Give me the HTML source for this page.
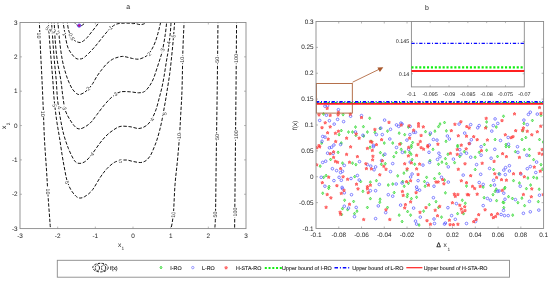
<!DOCTYPE html><html><head><meta charset="utf-8"><style>html,body{margin:0;padding:0;background:#fff;width:550px;height:282px;overflow:hidden}svg{display:block}text{font-family:"Liberation Sans",Arial,sans-serif;text-rendering:geometricPrecision}</style></head><body><svg width="550" height="282" viewBox="0 0 550 282"><rect width="550" height="282" fill="#fff"/><defs><clipPath id="cl"><rect x="20.00" y="22.50" width="226.00" height="206.10"/></clipPath><clipPath id="cr"><rect x="316.00" y="21.50" width="227.60" height="207.00"/></clipPath></defs><g clip-path="url(#cl)" fill="none" stroke="#111" stroke-width="1.0" stroke-dasharray="3.4 1.7"><path d="M39.30,20.00 C39.50,25.00 40.05,40.00 40.50,50.00 C40.95,60.00 41.53,70.00 42.00,80.00 C42.47,90.00 42.88,100.00 43.30,110.00 C43.72,120.00 43.97,130.00 44.50,140.00 C45.03,150.00 45.92,160.83 46.50,170.00 C47.08,179.17 47.45,186.67 48.00,195.00 C48.55,203.33 49.37,214.00 49.80,220.00 C50.23,226.00 50.47,229.17 50.60,231.00"/><path d="M48.20,20.00 C48.47,24.00 49.28,37.00 49.80,44.00 C50.32,51.00 50.80,56.00 51.30,62.00 C51.80,68.00 52.32,73.67 52.80,80.00 C53.28,86.33 53.57,93.33 54.20,100.00 C54.83,106.67 55.72,113.72 56.60,120.00 C57.48,126.28 58.57,131.78 59.50,137.70 C60.43,143.62 61.35,150.28 62.20,155.50 C63.05,160.72 63.80,164.83 64.60,169.00 C65.40,173.17 65.95,177.03 67.00,180.50 C68.05,183.97 69.43,187.22 70.90,189.80 C72.37,192.38 74.35,194.63 75.80,196.00 C77.25,197.37 78.15,197.88 79.60,198.00 C81.05,198.12 82.43,197.95 84.50,196.70 C86.57,195.45 89.33,193.78 92.00,190.50 C94.67,187.22 97.98,180.67 100.50,177.00 C103.02,173.33 104.82,170.92 107.10,168.50 C109.38,166.08 111.98,163.83 114.20,162.50 C116.42,161.17 118.33,160.92 120.40,160.50 C122.47,160.08 124.38,159.82 126.60,160.00 C128.82,160.18 131.33,161.18 133.70,161.60 C136.07,162.02 138.73,162.68 140.80,162.50 C142.87,162.32 144.48,161.68 146.10,160.50 C147.72,159.32 149.17,157.58 150.50,155.40 C151.83,153.22 153.03,149.97 154.10,147.40 C155.17,144.83 155.98,142.82 156.90,140.00 C157.82,137.18 158.78,133.67 159.60,130.50 C160.42,127.33 161.10,124.42 161.80,121.00 C162.50,117.58 163.17,113.50 163.80,110.00 C164.43,106.50 165.03,103.33 165.60,100.00 C166.17,96.67 166.52,94.35 167.20,90.00 C167.88,85.65 168.93,79.73 169.70,73.90 C170.47,68.07 171.18,60.98 171.80,55.00 C172.42,49.02 172.90,43.83 173.40,38.00 C173.90,32.17 174.57,23.00 174.80,20.00"/><path d="M51.40,20.00 C51.63,23.33 52.32,33.33 52.80,40.00 C53.28,46.67 53.73,53.33 54.30,60.00 C54.87,66.67 55.65,73.33 56.20,80.00 C56.75,86.67 56.92,93.67 57.60,100.00 C58.28,106.33 59.30,112.33 60.30,118.00 C61.30,123.67 62.25,128.93 63.60,134.00 C64.95,139.07 66.57,143.93 68.40,148.40 C70.23,152.87 72.68,158.30 74.60,160.80 C76.52,163.30 77.98,163.40 79.90,163.40 C81.82,163.40 84.03,162.42 86.10,160.80 C88.17,159.18 89.98,156.67 92.30,153.70 C94.62,150.73 97.72,145.95 100.00,143.00 C102.28,140.05 104.00,138.00 106.00,136.00 C108.00,134.00 109.67,132.58 112.00,131.00 C114.33,129.42 117.02,127.22 120.00,126.50 C122.98,125.78 126.73,126.37 129.90,126.70 C133.07,127.03 136.23,128.70 139.00,128.50 C141.77,128.30 144.42,127.00 146.50,125.50 C148.58,124.00 149.93,122.10 151.50,119.50 C153.07,116.90 154.58,113.58 155.90,109.90 C157.22,106.22 158.42,101.05 159.40,97.40 C160.38,93.75 161.03,91.45 161.80,88.00 C162.57,84.55 163.25,81.03 164.00,76.70 C164.75,72.37 165.58,66.45 166.30,62.00 C167.02,57.55 167.63,54.83 168.30,50.00 C168.97,45.17 169.83,38.00 170.30,33.00 C170.77,28.00 170.97,22.17 171.10,20.00"/><path d="M54.10,20.00 C54.28,23.33 54.68,33.33 55.20,40.00 C55.72,46.67 56.27,53.33 57.20,60.00 C58.13,66.67 59.87,74.00 60.80,80.00 C61.73,86.00 62.07,91.00 62.80,96.00 C63.53,101.00 63.98,106.00 65.20,110.00 C66.42,114.00 68.38,117.15 70.10,120.00 C71.82,122.85 73.87,125.62 75.50,127.10 C77.13,128.58 78.13,129.05 79.90,128.90 C81.67,128.75 84.18,127.38 86.10,126.20 C88.02,125.02 89.58,123.75 91.40,121.80 C93.22,119.85 94.83,117.32 97.00,114.50 C99.17,111.68 101.90,107.82 104.40,104.90 C106.90,101.98 109.40,99.15 112.00,97.00 C114.60,94.85 117.02,92.87 120.00,92.00 C122.98,91.13 126.82,91.67 129.90,91.80 C132.98,91.93 136.07,92.85 138.50,92.80 C140.93,92.75 142.67,92.63 144.50,91.50 C146.33,90.37 148.00,88.17 149.50,86.00 C151.00,83.83 152.25,81.47 153.50,78.50 C154.75,75.53 155.87,71.62 157.00,68.20 C158.13,64.78 159.37,61.07 160.30,58.00 C161.23,54.93 161.77,53.77 162.60,49.80 C163.43,45.83 164.58,39.17 165.30,34.20 C166.02,29.23 166.63,22.37 166.90,20.00"/><path d="M57.80,20.00 C58.08,23.33 58.75,33.33 59.50,40.00 C60.25,46.67 61.22,54.28 62.30,60.00 C63.38,65.72 64.85,70.50 66.00,74.30 C67.15,78.10 68.13,80.33 69.20,82.80 C70.27,85.27 71.17,87.30 72.40,89.10 C73.63,90.90 75.37,92.70 76.60,93.60 C77.83,94.50 78.55,94.67 79.80,94.50 C81.05,94.33 82.68,93.50 84.10,92.60 C85.52,91.70 86.88,90.57 88.30,89.10 C89.72,87.63 91.18,85.90 92.60,83.80 C94.02,81.70 95.27,78.87 96.80,76.50 C98.33,74.13 100.10,71.77 101.80,69.60 C103.50,67.43 105.18,65.23 107.00,63.50 C108.82,61.77 110.80,60.27 112.70,59.20 C114.60,58.13 116.73,57.57 118.40,57.10 C120.07,56.63 121.28,56.40 122.70,56.40 C124.12,56.40 125.25,56.75 126.90,57.10 C128.55,57.45 130.70,58.15 132.60,58.50 C134.50,58.85 136.57,59.32 138.30,59.20 C140.03,59.08 141.45,58.50 143.00,57.80 C144.55,57.10 146.10,56.47 147.60,55.00 C149.10,53.53 150.68,51.28 152.00,49.00 C153.32,46.72 154.45,44.13 155.50,41.30 C156.55,38.47 157.58,34.55 158.30,32.00 C159.02,29.45 159.32,28.00 159.80,26.00 C160.28,24.00 160.97,21.00 161.20,20.00"/><path d="M62.60,20.00 C62.88,21.62 63.75,26.48 64.30,29.70 C64.85,32.92 65.28,36.28 65.90,39.30 C66.52,42.32 67.03,45.35 68.00,47.80 C68.97,50.25 70.38,52.25 71.70,54.00 C73.02,55.75 74.58,57.47 75.90,58.30 C77.22,59.13 78.17,59.18 79.60,59.00 C81.03,58.82 82.03,59.15 84.50,57.20 C86.97,55.25 91.08,51.02 94.40,47.30 C97.72,43.58 101.72,38.08 104.40,34.90 C107.08,31.72 108.68,29.92 110.50,28.20 C112.32,26.48 113.72,25.40 115.30,24.60 C116.88,23.80 118.38,23.65 120.00,23.40 C121.62,23.15 123.33,23.13 125.00,23.10 C126.67,23.07 128.23,23.12 130.00,23.20 C131.77,23.28 133.93,23.37 135.60,23.60 C137.27,23.83 138.52,24.60 140.00,24.60 C141.48,24.60 143.25,24.37 144.50,23.60 C145.75,22.83 147.00,20.60 147.50,20.00"/><path d="M66.90,20.00 C67.17,21.62 67.90,27.20 68.50,29.70 C69.10,32.20 69.75,33.45 70.50,35.00 C71.25,36.55 72.08,37.93 73.00,39.00 C73.92,40.07 74.80,40.82 76.00,41.40 C77.20,41.98 78.97,42.58 80.20,42.50 C81.43,42.42 82.33,41.62 83.40,40.90 C84.47,40.18 85.35,39.53 86.60,38.20 C87.85,36.87 89.48,34.67 90.90,32.90 C92.32,31.13 93.87,29.20 95.10,27.60 C96.33,26.00 97.45,24.57 98.30,23.30 C99.15,22.03 99.88,20.55 100.20,20.00"/><path d="M73.20,21.00 C73.58,21.47 74.53,22.92 75.50,23.80 C76.47,24.68 77.83,26.10 79.00,26.30 C80.17,26.50 81.42,25.65 82.50,25.00 C83.58,24.35 84.83,23.07 85.50,22.40 C86.17,21.73 86.33,21.23 86.50,21.00"/><path d="M184.20,20.00 C183.98,25.00 183.27,38.33 182.90,50.00 C182.53,61.67 182.37,79.20 182.00,90.00 C181.63,100.80 181.12,107.15 180.70,114.80 C180.28,122.45 180.03,128.37 179.50,135.90 C178.97,143.43 178.25,151.85 177.50,160.00 C176.75,168.15 175.70,175.70 175.00,184.80 C174.30,193.90 174.03,206.90 173.30,214.60 C172.57,222.30 171.05,228.27 170.60,231.00"/><path d="M218.00,20.00 C217.87,31.67 217.50,66.67 217.20,90.00 C216.90,113.33 216.48,139.23 216.20,160.00 C215.92,180.77 215.77,202.77 215.50,214.60 C215.23,226.43 214.75,228.27 214.60,231.00"/><path d="M236.60,20.00 C236.50,31.67 236.22,66.67 236.00,90.00 C235.78,113.33 235.53,136.50 235.30,160.00 C235.07,183.50 234.72,219.17 234.60,231.00"/></g><g font-size="5.4" fill="#333" text-anchor="middle" stroke="#fff" stroke-width="1.8" paint-order="stroke"><text x="39.2" y="37.40" transform="rotate(90 39.2 35.5)">10</text><text x="43.1" y="115.60" transform="rotate(90 43.1 113.7)">10</text><text x="47.8" y="193.40" transform="rotate(90 47.8 191.5)">10</text><text x="47.4" y="30.20" transform="rotate(35 47.4 28.3)">5</text><text x="50.9" y="31.70" transform="rotate(35 50.9 29.8)">4</text><text x="54.4" y="33.30" transform="rotate(35 54.4 31.4)">3</text><text x="57.9" y="34.90" transform="rotate(35 57.9 33)">2</text><text x="64.4" y="36.10" transform="rotate(60 64.4 34.2)">1</text><text x="71.6" y="38.50" transform="rotate(62 71.6 36.6)">0.5</text><text x="54.4" y="107.40" transform="rotate(85 54.4 105.5)">5</text><text x="59.5" y="109.20" transform="rotate(80 59.5 107.3)">4</text><text x="64.6" y="110.30" transform="rotate(70 64.6 108.4)">3</text><text x="88.2" y="90.50" transform="rotate(-40 88.2 88.6)">2</text><text x="115.5" y="95.90" transform="rotate(-30 115.5 94)">3</text><text x="92.2" y="155.90" transform="rotate(-40 92.2 154)">4</text><text x="67.1" y="184.20" transform="rotate(70 67.1 182.3)">5</text><text x="120.4" y="162.50" transform="rotate(0 120.4 160.6)">5</text><text x="152.2" y="121.40" transform="rotate(-60 152.2 119.5)">4</text><text x="162.6" y="51.70" transform="rotate(-75 162.6 49.8)">3</text><text x="149.3" y="56.10" transform="rotate(-45 149.3 54.2)">2</text><text x="110.6" y="29.50" transform="rotate(-30 110.6 27.6)">1</text><text x="164.6" y="115.50" transform="rotate(-80 164.6 113.6)">5</text><text x="168.9" y="44.60" transform="rotate(-83 168.9 42.7)">4</text><text x="173.4" y="38.10" transform="rotate(-85 173.4 36.2)">5</text><text x="182.5" y="61.60" transform="rotate(-90 182.5 59.7)">10</text><text x="179.5" y="137.80" transform="rotate(-90 179.5 135.9)">10</text><text x="173.3" y="216.50" transform="rotate(-88 173.3 214.6)">10</text><text x="217" y="61.60" transform="rotate(-90 217 59.7)">50</text><text x="216.7" y="138.90" transform="rotate(-90 216.7 137)">50</text><text x="215.5" y="216.50" transform="rotate(-90 215.5 214.6)">50</text><text x="236.5" y="60.40" transform="rotate(-90 236.5 58.5)">100</text><text x="236" y="136.60" transform="rotate(-90 236 134.7)">100</text><text x="234.8" y="213.90" transform="rotate(-90 234.8 212)">100</text></g><circle cx="79.2" cy="25.6" r="1.7" fill="#c0108a" stroke="#5050ff" stroke-width="0.8"/><rect x="20.0" y="22.5" width="226.0" height="206.1" fill="none" stroke="#8a8a8a" stroke-width="0.9"/><path d="M57.67,228.6 v-2 M57.67,22.5 v2 M95.33,228.6 v-2 M95.33,22.5 v2 M133.00,228.6 v-2 M133.00,22.5 v2 M170.67,228.6 v-2 M170.67,22.5 v2 M208.33,228.6 v-2 M208.33,22.5 v2 M20.0,194.25 h2 M246.0,194.25 h-2 M20.0,159.90 h2 M246.0,159.90 h-2 M20.0,125.55 h2 M246.0,125.55 h-2 M20.0,91.20 h2 M246.0,91.20 h-2 M20.0,56.85 h2 M246.0,56.85 h-2" stroke="#8a8a8a" stroke-width="0.6" fill="none"/><g font-size="6.4" fill="#1e1e1e"><text x="20.00" y="237.5" text-anchor="middle">-3</text><text x="57.67" y="237.5" text-anchor="middle">-2</text><text x="95.33" y="237.5" text-anchor="middle">-1</text><text x="133.00" y="237.5" text-anchor="middle">0</text><text x="170.67" y="237.5" text-anchor="middle">1</text><text x="208.33" y="237.5" text-anchor="middle">2</text><text x="246.00" y="237.5" text-anchor="middle">3</text><text x="17.6" y="230.60" text-anchor="end">-3</text><text x="17.6" y="196.25" text-anchor="end">-2</text><text x="17.6" y="161.90" text-anchor="end">-1</text><text x="17.6" y="127.55" text-anchor="end">0</text><text x="17.6" y="93.20" text-anchor="end">1</text><text x="17.6" y="58.85" text-anchor="end">2</text><text x="17.6" y="24.50" text-anchor="end">3</text></g><text x="117.9" y="246.6" font-size="6.6" fill="#1e1e1e">x</text><text x="121.6" y="249.8" font-size="4.8" fill="#1e1e1e">1</text><text transform="translate(6.2 128.9) rotate(-90)" font-size="6.6" fill="#1e1e1e">x</text><text transform="translate(9.5 125.2) rotate(-90)" font-size="4.8" fill="#1e1e1e">2</text><text x="128.2" y="9.4" font-size="6.9" fill="#1a1a1a" text-anchor="middle">a</text><g clip-path="url(#cr)"><path d="M323.5,112.6l1.05,1.45l-1.05,1.45l-1.05,-1.45zM343.1,113.2l1.05,1.45l-1.05,1.45l-1.05,-1.45zM369.7,116.8l1.05,1.45l-1.05,1.45l-1.05,-1.45zM355.5,125.6l1.05,1.45l-1.05,1.45l-1.05,-1.45zM363.4,125.2l1.05,1.45l-1.05,1.45l-1.05,-1.45zM341.3,129.1l1.05,1.45l-1.05,1.45l-1.05,-1.45zM348.5,130.6l1.05,1.45l-1.05,1.45l-1.05,-1.45zM352.5,130.6l1.05,1.45l-1.05,1.45l-1.05,-1.45zM339.1,133.2l1.05,1.45l-1.05,1.45l-1.05,-1.45zM367.4,130.6l1.05,1.45l-1.05,1.45l-1.05,-1.45zM374.9,130.9l1.05,1.45l-1.05,1.45l-1.05,-1.45zM380.1,127.1l1.05,1.45l-1.05,1.45l-1.05,-1.45zM387.5,129.7l1.05,1.45l-1.05,1.45l-1.05,-1.45zM355.9,133.9l1.05,1.45l-1.05,1.45l-1.05,-1.45zM371.4,139.9l1.05,1.45l-1.05,1.45l-1.05,-1.45zM384.3,141.6l1.05,1.45l-1.05,1.45l-1.05,-1.45zM341.3,141.6l1.05,1.45l-1.05,1.45l-1.05,-1.45zM321.7,141.6l1.05,1.45l-1.05,1.45l-1.05,-1.45zM363.7,134.6l1.05,1.45l-1.05,1.45l-1.05,-1.45zM408.4,125.6l1.05,1.45l-1.05,1.45l-1.05,-1.45zM399.2,131.7l1.05,1.45l-1.05,1.45l-1.05,-1.45zM404.7,133.2l1.05,1.45l-1.05,1.45l-1.05,-1.45zM425.5,130.2l1.05,1.45l-1.05,1.45l-1.05,-1.45zM430.0,133.2l1.05,1.45l-1.05,1.45l-1.05,-1.45zM434.9,129.7l1.05,1.45l-1.05,1.45l-1.05,-1.45zM440.0,122.6l1.05,1.45l-1.05,1.45l-1.05,-1.45zM438.5,125.2l1.05,1.45l-1.05,1.45l-1.05,-1.45zM444.5,121.1l1.05,1.45l-1.05,1.45l-1.05,-1.45zM446.4,129.4l1.05,1.45l-1.05,1.45l-1.05,-1.45zM446.0,139.9l1.05,1.45l-1.05,1.45l-1.05,-1.45zM392.7,141.6l1.05,1.45l-1.05,1.45l-1.05,-1.45zM412.6,141.0l1.05,1.45l-1.05,1.45l-1.05,-1.45zM411.4,144.0l1.05,1.45l-1.05,1.45l-1.05,-1.45zM400.9,142.1l1.05,1.45l-1.05,1.45l-1.05,-1.45zM457.6,144.0l1.05,1.45l-1.05,1.45l-1.05,-1.45zM503.5,114.8l1.05,1.45l-1.05,1.45l-1.05,-1.45zM486.6,120.5l1.05,1.45l-1.05,1.45l-1.05,-1.45zM486.2,125.6l1.05,1.45l-1.05,1.45l-1.05,-1.45zM496.3,125.6l1.05,1.45l-1.05,1.45l-1.05,-1.45zM523.9,122.0l1.05,1.45l-1.05,1.45l-1.05,-1.45zM532.4,119.0l1.05,1.45l-1.05,1.45l-1.05,-1.45zM541.0,113.8l1.05,1.45l-1.05,1.45l-1.05,-1.45zM522.8,129.4l1.05,1.45l-1.05,1.45l-1.05,-1.45zM495.1,138.1l1.05,1.45l-1.05,1.45l-1.05,-1.45zM522.0,138.1l1.05,1.45l-1.05,1.45l-1.05,-1.45zM525.8,136.1l1.05,1.45l-1.05,1.45l-1.05,-1.45zM539.5,138.1l1.05,1.45l-1.05,1.45l-1.05,-1.45zM484.4,143.1l1.05,1.45l-1.05,1.45l-1.05,-1.45zM506.0,143.1l1.05,1.45l-1.05,1.45l-1.05,-1.45zM543.3,140.6l1.05,1.45l-1.05,1.45l-1.05,-1.45zM338.1,150.9l1.05,1.45l-1.05,1.45l-1.05,-1.45zM370.0,145.8l1.05,1.45l-1.05,1.45l-1.05,-1.45zM380.4,151.2l1.05,1.45l-1.05,1.45l-1.05,-1.45zM383.4,153.8l1.05,1.45l-1.05,1.45l-1.05,-1.45zM330.6,158.0l1.05,1.45l-1.05,1.45l-1.05,-1.45zM320.2,164.7l1.05,1.45l-1.05,1.45l-1.05,-1.45zM342.5,161.7l1.05,1.45l-1.05,1.45l-1.05,-1.45zM352.5,161.7l1.05,1.45l-1.05,1.45l-1.05,-1.45zM355.9,163.2l1.05,1.45l-1.05,1.45l-1.05,-1.45zM381.3,162.8l1.05,1.45l-1.05,1.45l-1.05,-1.45zM385.3,162.2l1.05,1.45l-1.05,1.45l-1.05,-1.45zM323.7,175.9l1.05,1.45l-1.05,1.45l-1.05,-1.45zM326.1,174.1l1.05,1.45l-1.05,1.45l-1.05,-1.45zM354.7,175.2l1.05,1.45l-1.05,1.45l-1.05,-1.45zM360.7,180.1l1.05,1.45l-1.05,1.45l-1.05,-1.45zM370.4,180.7l1.05,1.45l-1.05,1.45l-1.05,-1.45zM376.4,179.2l1.05,1.45l-1.05,1.45l-1.05,-1.45zM388.3,183.6l1.05,1.45l-1.05,1.45l-1.05,-1.45zM329.1,185.1l1.05,1.45l-1.05,1.45l-1.05,-1.45zM401.2,147.9l1.05,1.45l-1.05,1.45l-1.05,-1.45zM405.1,150.6l1.05,1.45l-1.05,1.45l-1.05,-1.45zM396.2,151.2l1.05,1.45l-1.05,1.45l-1.05,-1.45zM393.8,155.2l1.05,1.45l-1.05,1.45l-1.05,-1.45zM409.6,150.9l1.05,1.45l-1.05,1.45l-1.05,-1.45zM411.1,152.8l1.05,1.45l-1.05,1.45l-1.05,-1.45zM411.4,145.8l1.05,1.45l-1.05,1.45l-1.05,-1.45zM433.0,147.9l1.05,1.45l-1.05,1.45l-1.05,-1.45zM412.1,158.2l1.05,1.45l-1.05,1.45l-1.05,-1.45zM414.7,162.8l1.05,1.45l-1.05,1.45l-1.05,-1.45zM430.0,159.2l1.05,1.45l-1.05,1.45l-1.05,-1.45zM438.5,162.8l1.05,1.45l-1.05,1.45l-1.05,-1.45zM441.9,160.7l1.05,1.45l-1.05,1.45l-1.05,-1.45zM445.4,157.2l1.05,1.45l-1.05,1.45l-1.05,-1.45zM446.4,162.2l1.05,1.45l-1.05,1.45l-1.05,-1.45zM447.9,152.8l1.05,1.45l-1.05,1.45l-1.05,-1.45zM454.6,161.2l1.05,1.45l-1.05,1.45l-1.05,-1.45zM459.8,155.0l1.05,1.45l-1.05,1.45l-1.05,-1.45zM457.6,145.2l1.05,1.45l-1.05,1.45l-1.05,-1.45zM464.3,150.2l1.05,1.45l-1.05,1.45l-1.05,-1.45zM403.9,171.7l1.05,1.45l-1.05,1.45l-1.05,-1.45zM397.7,174.4l1.05,1.45l-1.05,1.45l-1.05,-1.45zM406.9,168.7l1.05,1.45l-1.05,1.45l-1.05,-1.45zM439.4,172.2l1.05,1.45l-1.05,1.45l-1.05,-1.45zM426.6,175.9l1.05,1.45l-1.05,1.45l-1.05,-1.45zM434.5,177.1l1.05,1.45l-1.05,1.45l-1.05,-1.45zM444.5,178.6l1.05,1.45l-1.05,1.45l-1.05,-1.45zM424.5,180.1l1.05,1.45l-1.05,1.45l-1.05,-1.45zM402.7,180.1l1.05,1.45l-1.05,1.45l-1.05,-1.45zM408.4,181.9l1.05,1.45l-1.05,1.45l-1.05,-1.45zM392.7,182.6l1.05,1.45l-1.05,1.45l-1.05,-1.45zM404.2,184.8l1.05,1.45l-1.05,1.45l-1.05,-1.45zM425.1,184.8l1.05,1.45l-1.05,1.45l-1.05,-1.45zM466.5,184.6l1.05,1.45l-1.05,1.45l-1.05,-1.45zM479.2,150.9l1.05,1.45l-1.05,1.45l-1.05,-1.45zM486.6,148.8l1.05,1.45l-1.05,1.45l-1.05,-1.45zM475.2,155.8l1.05,1.45l-1.05,1.45l-1.05,-1.45zM497.5,155.0l1.05,1.45l-1.05,1.45l-1.05,-1.45zM515.4,150.2l1.05,1.45l-1.05,1.45l-1.05,-1.45zM524.3,148.2l1.05,1.45l-1.05,1.45l-1.05,-1.45zM529.4,147.9l1.05,1.45l-1.05,1.45l-1.05,-1.45zM529.4,154.2l1.05,1.45l-1.05,1.45l-1.05,-1.45zM533.6,158.2l1.05,1.45l-1.05,1.45l-1.05,-1.45zM541.0,163.2l1.05,1.45l-1.05,1.45l-1.05,-1.45zM542.5,167.7l1.05,1.45l-1.05,1.45l-1.05,-1.45zM475.2,168.1l1.05,1.45l-1.05,1.45l-1.05,-1.45zM493.6,168.1l1.05,1.45l-1.05,1.45l-1.05,-1.45zM499.0,172.2l1.05,1.45l-1.05,1.45l-1.05,-1.45zM527.9,176.6l1.05,1.45l-1.05,1.45l-1.05,-1.45zM533.6,175.9l1.05,1.45l-1.05,1.45l-1.05,-1.45zM536.9,176.6l1.05,1.45l-1.05,1.45l-1.05,-1.45zM513.5,179.2l1.05,1.45l-1.05,1.45l-1.05,-1.45zM519.4,181.6l1.05,1.45l-1.05,1.45l-1.05,-1.45zM490.7,184.1l1.05,1.45l-1.05,1.45l-1.05,-1.45zM505.0,186.0l1.05,1.45l-1.05,1.45l-1.05,-1.45zM530.6,183.6l1.05,1.45l-1.05,1.45l-1.05,-1.45zM483.2,185.6l1.05,1.45l-1.05,1.45l-1.05,-1.45zM506.0,145.2l1.05,1.45l-1.05,1.45l-1.05,-1.45zM509.0,145.2l1.05,1.45l-1.05,1.45l-1.05,-1.45zM322.7,191.8l1.05,1.45l-1.05,1.45l-1.05,-1.45zM362.9,189.9l1.05,1.45l-1.05,1.45l-1.05,-1.45zM344.6,198.8l1.05,1.45l-1.05,1.45l-1.05,-1.45zM353.6,200.0l1.05,1.45l-1.05,1.45l-1.05,-1.45zM370.4,197.2l1.05,1.45l-1.05,1.45l-1.05,-1.45zM380.1,197.8l1.05,1.45l-1.05,1.45l-1.05,-1.45zM379.8,200.8l1.05,1.45l-1.05,1.45l-1.05,-1.45zM367.4,206.0l1.05,1.45l-1.05,1.45l-1.05,-1.45zM342.5,207.2l1.05,1.45l-1.05,1.45l-1.05,-1.45zM347.6,208.2l1.05,1.45l-1.05,1.45l-1.05,-1.45zM357.0,209.7l1.05,1.45l-1.05,1.45l-1.05,-1.45zM354.5,212.2l1.05,1.45l-1.05,1.45l-1.05,-1.45zM341.6,213.1l1.05,1.45l-1.05,1.45l-1.05,-1.45zM387.5,206.0l1.05,1.45l-1.05,1.45l-1.05,-1.45zM328.7,186.9l1.05,1.45l-1.05,1.45l-1.05,-1.45zM394.2,191.1l1.05,1.45l-1.05,1.45l-1.05,-1.45zM407.6,192.9l1.05,1.45l-1.05,1.45l-1.05,-1.45zM407.2,195.2l1.05,1.45l-1.05,1.45l-1.05,-1.45zM411.4,197.2l1.05,1.45l-1.05,1.45l-1.05,-1.45zM416.6,195.8l1.05,1.45l-1.05,1.45l-1.05,-1.45zM445.4,191.4l1.05,1.45l-1.05,1.45l-1.05,-1.45zM436.0,200.2l1.05,1.45l-1.05,1.45l-1.05,-1.45zM429.3,203.2l1.05,1.45l-1.05,1.45l-1.05,-1.45zM438.5,206.0l1.05,1.45l-1.05,1.45l-1.05,-1.45zM423.6,209.7l1.05,1.45l-1.05,1.45l-1.05,-1.45zM407.6,210.1l1.05,1.45l-1.05,1.45l-1.05,-1.45zM410.6,213.7l1.05,1.45l-1.05,1.45l-1.05,-1.45zM399.2,213.7l1.05,1.45l-1.05,1.45l-1.05,-1.45zM402.1,220.1l1.05,1.45l-1.05,1.45l-1.05,-1.45zM419.1,223.6l1.05,1.45l-1.05,1.45l-1.05,-1.45zM441.5,215.7l1.05,1.45l-1.05,1.45l-1.05,-1.45zM457.6,212.2l1.05,1.45l-1.05,1.45l-1.05,-1.45zM462.3,198.8l1.05,1.45l-1.05,1.45l-1.05,-1.45zM465.3,201.8l1.05,1.45l-1.05,1.45l-1.05,-1.45zM463.5,212.2l1.05,1.45l-1.05,1.45l-1.05,-1.45zM496.3,187.8l1.05,1.45l-1.05,1.45l-1.05,-1.45zM504.5,187.2l1.05,1.45l-1.05,1.45l-1.05,-1.45zM526.4,187.2l1.05,1.45l-1.05,1.45l-1.05,-1.45zM539.2,187.8l1.05,1.45l-1.05,1.45l-1.05,-1.45zM493.0,193.2l1.05,1.45l-1.05,1.45l-1.05,-1.45zM484.1,196.2l1.05,1.45l-1.05,1.45l-1.05,-1.45zM496.6,199.2l1.05,1.45l-1.05,1.45l-1.05,-1.45zM503.0,200.8l1.05,1.45l-1.05,1.45l-1.05,-1.45zM503.8,201.2l1.05,1.45l-1.05,1.45l-1.05,-1.45zM508.5,195.2l1.05,1.45l-1.05,1.45l-1.05,-1.45zM512.4,197.0l1.05,1.45l-1.05,1.45l-1.05,-1.45zM517.9,201.2l1.05,1.45l-1.05,1.45l-1.05,-1.45zM521.9,196.7l1.05,1.45l-1.05,1.45l-1.05,-1.45zM538.3,200.2l1.05,1.45l-1.05,1.45l-1.05,-1.45zM524.6,204.2l1.05,1.45l-1.05,1.45l-1.05,-1.45zM503.8,206.2l1.05,1.45l-1.05,1.45l-1.05,-1.45zM512.7,213.7l1.05,1.45l-1.05,1.45l-1.05,-1.45zM495.1,189.9l1.05,1.45l-1.05,1.45l-1.05,-1.45z" fill="#9ef09e" stroke="#3ad83a" stroke-width="0.75"/><path d="M323.60,106.2a1.3,1.3 0 1,0 2.6,0a1.3,1.3 0 1,0 -2.6,0M326.30,105.8a1.3,1.3 0 1,0 2.6,0a1.3,1.3 0 1,0 -2.6,0M337.10,109.7a1.3,1.3 0 1,0 2.6,0a1.3,1.3 0 1,0 -2.6,0M325.10,115.2a1.3,1.3 0 1,0 2.6,0a1.3,1.3 0 1,0 -2.6,0M349.30,116.2a1.3,1.3 0 1,0 2.6,0a1.3,1.3 0 1,0 -2.6,0M360.20,115.6a1.3,1.3 0 1,0 2.6,0a1.3,1.3 0 1,0 -2.6,0M318.40,120.4a1.3,1.3 0 1,0 2.6,0a1.3,1.3 0 1,0 -2.6,0M328.10,120.7a1.3,1.3 0 1,0 2.6,0a1.3,1.3 0 1,0 -2.6,0M336.30,119.4a1.3,1.3 0 1,0 2.6,0a1.3,1.3 0 1,0 -2.6,0M342.30,121.6a1.3,1.3 0 1,0 2.6,0a1.3,1.3 0 1,0 -2.6,0M332.90,124.1a1.3,1.3 0 1,0 2.6,0a1.3,1.3 0 1,0 -2.6,0M383.30,120.1a1.3,1.3 0 1,0 2.6,0a1.3,1.3 0 1,0 -2.6,0M379.50,128.1a1.3,1.3 0 1,0 2.6,0a1.3,1.3 0 1,0 -2.6,0M389.20,129.3a1.3,1.3 0 1,0 2.6,0a1.3,1.3 0 1,0 -2.6,0M354.20,132.0a1.3,1.3 0 1,0 2.6,0a1.3,1.3 0 1,0 -2.6,0M321.40,136.5a1.3,1.3 0 1,0 2.6,0a1.3,1.3 0 1,0 -2.6,0M323.70,137.1a1.3,1.3 0 1,0 2.6,0a1.3,1.3 0 1,0 -2.6,0M361.60,135.3a1.3,1.3 0 1,0 2.6,0a1.3,1.3 0 1,0 -2.6,0M375.10,134.6a1.3,1.3 0 1,0 2.6,0a1.3,1.3 0 1,0 -2.6,0M381.00,134.6a1.3,1.3 0 1,0 2.6,0a1.3,1.3 0 1,0 -2.6,0M388.50,139.0a1.3,1.3 0 1,0 2.6,0a1.3,1.3 0 1,0 -2.6,0M320.70,141.3a1.3,1.3 0 1,0 2.6,0a1.3,1.3 0 1,0 -2.6,0M332.60,145.0a1.3,1.3 0 1,0 2.6,0a1.3,1.3 0 1,0 -2.6,0M339.30,144.5a1.3,1.3 0 1,0 2.6,0a1.3,1.3 0 1,0 -2.6,0M372.10,145.4a1.3,1.3 0 1,0 2.6,0a1.3,1.3 0 1,0 -2.6,0M395.20,124.9a1.3,1.3 0 1,0 2.6,0a1.3,1.3 0 1,0 -2.6,0M397.40,126.4a1.3,1.3 0 1,0 2.6,0a1.3,1.3 0 1,0 -2.6,0M399.60,123.1a1.3,1.3 0 1,0 2.6,0a1.3,1.3 0 1,0 -2.6,0M400.80,124.1a1.3,1.3 0 1,0 2.6,0a1.3,1.3 0 1,0 -2.6,0M408.90,126.4a1.3,1.3 0 1,0 2.6,0a1.3,1.3 0 1,0 -2.6,0M408.60,134.6a1.3,1.3 0 1,0 2.6,0a1.3,1.3 0 1,0 -2.6,0M412.30,132.3a1.3,1.3 0 1,0 2.6,0a1.3,1.3 0 1,0 -2.6,0M414.20,132.3a1.3,1.3 0 1,0 2.6,0a1.3,1.3 0 1,0 -2.6,0M429.10,133.1a1.3,1.3 0 1,0 2.6,0a1.3,1.3 0 1,0 -2.6,0M405.60,140.1a1.3,1.3 0 1,0 2.6,0a1.3,1.3 0 1,0 -2.6,0M432.10,139.5a1.3,1.3 0 1,0 2.6,0a1.3,1.3 0 1,0 -2.6,0M435.70,140.1a1.3,1.3 0 1,0 2.6,0a1.3,1.3 0 1,0 -2.6,0M446.10,136.0a1.3,1.3 0 1,0 2.6,0a1.3,1.3 0 1,0 -2.6,0M448.10,139.0a1.3,1.3 0 1,0 2.6,0a1.3,1.3 0 1,0 -2.6,0M457.80,124.1a1.3,1.3 0 1,0 2.6,0a1.3,1.3 0 1,0 -2.6,0M463.40,133.1a1.3,1.3 0 1,0 2.6,0a1.3,1.3 0 1,0 -2.6,0M428.00,145.0a1.3,1.3 0 1,0 2.6,0a1.3,1.3 0 1,0 -2.6,0M469.40,124.6a1.3,1.3 0 1,0 2.6,0a1.3,1.3 0 1,0 -2.6,0M476.40,127.8a1.3,1.3 0 1,0 2.6,0a1.3,1.3 0 1,0 -2.6,0M477.90,125.6a1.3,1.3 0 1,0 2.6,0a1.3,1.3 0 1,0 -2.6,0M493.80,118.9a1.3,1.3 0 1,0 2.6,0a1.3,1.3 0 1,0 -2.6,0M496.50,123.4a1.3,1.3 0 1,0 2.6,0a1.3,1.3 0 1,0 -2.6,0M492.00,125.6a1.3,1.3 0 1,0 2.6,0a1.3,1.3 0 1,0 -2.6,0M490.50,131.1a1.3,1.3 0 1,0 2.6,0a1.3,1.3 0 1,0 -2.6,0M470.00,139.8a1.3,1.3 0 1,0 2.6,0a1.3,1.3 0 1,0 -2.6,0M499.20,140.5a1.3,1.3 0 1,0 2.6,0a1.3,1.3 0 1,0 -2.6,0M506.90,137.5a1.3,1.3 0 1,0 2.6,0a1.3,1.3 0 1,0 -2.6,0M522.60,120.1a1.3,1.3 0 1,0 2.6,0a1.3,1.3 0 1,0 -2.6,0M526.00,124.6a1.3,1.3 0 1,0 2.6,0a1.3,1.3 0 1,0 -2.6,0M527.10,114.4a1.3,1.3 0 1,0 2.6,0a1.3,1.3 0 1,0 -2.6,0M529.00,112.2a1.3,1.3 0 1,0 2.6,0a1.3,1.3 0 1,0 -2.6,0M536.00,114.1a1.3,1.3 0 1,0 2.6,0a1.3,1.3 0 1,0 -2.6,0M507.20,144.2a1.3,1.3 0 1,0 2.6,0a1.3,1.3 0 1,0 -2.6,0M468.20,143.5a1.3,1.3 0 1,0 2.6,0a1.3,1.3 0 1,0 -2.6,0M328.10,147.8a1.3,1.3 0 1,0 2.6,0a1.3,1.3 0 1,0 -2.6,0M330.30,147.2a1.3,1.3 0 1,0 2.6,0a1.3,1.3 0 1,0 -2.6,0M326.30,153.2a1.3,1.3 0 1,0 2.6,0a1.3,1.3 0 1,0 -2.6,0M331.80,153.5a1.3,1.3 0 1,0 2.6,0a1.3,1.3 0 1,0 -2.6,0M321.40,162.4a1.3,1.3 0 1,0 2.6,0a1.3,1.3 0 1,0 -2.6,0M324.40,161.2a1.3,1.3 0 1,0 2.6,0a1.3,1.3 0 1,0 -2.6,0M331.10,168.7a1.3,1.3 0 1,0 2.6,0a1.3,1.3 0 1,0 -2.6,0M335.30,170.6a1.3,1.3 0 1,0 2.6,0a1.3,1.3 0 1,0 -2.6,0M339.30,172.5a1.3,1.3 0 1,0 2.6,0a1.3,1.3 0 1,0 -2.6,0M341.20,171.3a1.3,1.3 0 1,0 2.6,0a1.3,1.3 0 1,0 -2.6,0M343.00,165.4a1.3,1.3 0 1,0 2.6,0a1.3,1.3 0 1,0 -2.6,0M358.20,161.6a1.3,1.3 0 1,0 2.6,0a1.3,1.3 0 1,0 -2.6,0M366.10,164.6a1.3,1.3 0 1,0 2.6,0a1.3,1.3 0 1,0 -2.6,0M369.50,166.1a1.3,1.3 0 1,0 2.6,0a1.3,1.3 0 1,0 -2.6,0M372.80,169.8a1.3,1.3 0 1,0 2.6,0a1.3,1.3 0 1,0 -2.6,0M374.30,166.9a1.3,1.3 0 1,0 2.6,0a1.3,1.3 0 1,0 -2.6,0M372.10,146.7a1.3,1.3 0 1,0 2.6,0a1.3,1.3 0 1,0 -2.6,0M383.60,154.2a1.3,1.3 0 1,0 2.6,0a1.3,1.3 0 1,0 -2.6,0M389.20,171.6a1.3,1.3 0 1,0 2.6,0a1.3,1.3 0 1,0 -2.6,0M319.90,177.3a1.3,1.3 0 1,0 2.6,0a1.3,1.3 0 1,0 -2.6,0M337.80,177.3a1.3,1.3 0 1,0 2.6,0a1.3,1.3 0 1,0 -2.6,0M332.60,180.6a1.3,1.3 0 1,0 2.6,0a1.3,1.3 0 1,0 -2.6,0M340.00,180.3a1.3,1.3 0 1,0 2.6,0a1.3,1.3 0 1,0 -2.6,0M349.70,178.5a1.3,1.3 0 1,0 2.6,0a1.3,1.3 0 1,0 -2.6,0M356.10,175.5a1.3,1.3 0 1,0 2.6,0a1.3,1.3 0 1,0 -2.6,0M357.90,180.0a1.3,1.3 0 1,0 2.6,0a1.3,1.3 0 1,0 -2.6,0M378.00,184.4a1.3,1.3 0 1,0 2.6,0a1.3,1.3 0 1,0 -2.6,0M323.60,186.2a1.3,1.3 0 1,0 2.6,0a1.3,1.3 0 1,0 -2.6,0M340.80,187.4a1.3,1.3 0 1,0 2.6,0a1.3,1.3 0 1,0 -2.6,0M380.30,160.6a1.3,1.3 0 1,0 2.6,0a1.3,1.3 0 1,0 -2.6,0M395.20,147.5a1.3,1.3 0 1,0 2.6,0a1.3,1.3 0 1,0 -2.6,0M401.10,152.3a1.3,1.3 0 1,0 2.6,0a1.3,1.3 0 1,0 -2.6,0M407.40,149.3a1.3,1.3 0 1,0 2.6,0a1.3,1.3 0 1,0 -2.6,0M427.70,152.3a1.3,1.3 0 1,0 2.6,0a1.3,1.3 0 1,0 -2.6,0M437.60,153.2a1.3,1.3 0 1,0 2.6,0a1.3,1.3 0 1,0 -2.6,0M438.70,156.7a1.3,1.3 0 1,0 2.6,0a1.3,1.3 0 1,0 -2.6,0M436.20,159.4a1.3,1.3 0 1,0 2.6,0a1.3,1.3 0 1,0 -2.6,0M428.30,162.4a1.3,1.3 0 1,0 2.6,0a1.3,1.3 0 1,0 -2.6,0M408.90,162.1a1.3,1.3 0 1,0 2.6,0a1.3,1.3 0 1,0 -2.6,0M391.40,163.6a1.3,1.3 0 1,0 2.6,0a1.3,1.3 0 1,0 -2.6,0M421.70,165.1a1.3,1.3 0 1,0 2.6,0a1.3,1.3 0 1,0 -2.6,0M447.00,166.9a1.3,1.3 0 1,0 2.6,0a1.3,1.3 0 1,0 -2.6,0M452.10,159.1a1.3,1.3 0 1,0 2.6,0a1.3,1.3 0 1,0 -2.6,0M458.50,149.7a1.3,1.3 0 1,0 2.6,0a1.3,1.3 0 1,0 -2.6,0M459.60,154.2a1.3,1.3 0 1,0 2.6,0a1.3,1.3 0 1,0 -2.6,0M465.20,153.2a1.3,1.3 0 1,0 2.6,0a1.3,1.3 0 1,0 -2.6,0M410.80,174.0a1.3,1.3 0 1,0 2.6,0a1.3,1.3 0 1,0 -2.6,0M409.30,177.0a1.3,1.3 0 1,0 2.6,0a1.3,1.3 0 1,0 -2.6,0M416.80,180.6a1.3,1.3 0 1,0 2.6,0a1.3,1.3 0 1,0 -2.6,0M440.20,177.3a1.3,1.3 0 1,0 2.6,0a1.3,1.3 0 1,0 -2.6,0M447.00,182.1a1.3,1.3 0 1,0 2.6,0a1.3,1.3 0 1,0 -2.6,0M461.90,175.1a1.3,1.3 0 1,0 2.6,0a1.3,1.3 0 1,0 -2.6,0M394.90,184.0a1.3,1.3 0 1,0 2.6,0a1.3,1.3 0 1,0 -2.6,0M400.80,183.0a1.3,1.3 0 1,0 2.6,0a1.3,1.3 0 1,0 -2.6,0M426.20,183.6a1.3,1.3 0 1,0 2.6,0a1.3,1.3 0 1,0 -2.6,0M432.70,186.2a1.3,1.3 0 1,0 2.6,0a1.3,1.3 0 1,0 -2.6,0M415.30,187.0a1.3,1.3 0 1,0 2.6,0a1.3,1.3 0 1,0 -2.6,0M479.80,146.7a1.3,1.3 0 1,0 2.6,0a1.3,1.3 0 1,0 -2.6,0M493.50,149.3a1.3,1.3 0 1,0 2.6,0a1.3,1.3 0 1,0 -2.6,0M516.20,146.7a1.3,1.3 0 1,0 2.6,0a1.3,1.3 0 1,0 -2.6,0M469.40,157.2a1.3,1.3 0 1,0 2.6,0a1.3,1.3 0 1,0 -2.6,0M479.80,155.2a1.3,1.3 0 1,0 2.6,0a1.3,1.3 0 1,0 -2.6,0M489.80,158.2a1.3,1.3 0 1,0 2.6,0a1.3,1.3 0 1,0 -2.6,0M516.60,152.3a1.3,1.3 0 1,0 2.6,0a1.3,1.3 0 1,0 -2.6,0M525.60,155.2a1.3,1.3 0 1,0 2.6,0a1.3,1.3 0 1,0 -2.6,0M535.30,162.1a1.3,1.3 0 1,0 2.6,0a1.3,1.3 0 1,0 -2.6,0M475.30,164.6a1.3,1.3 0 1,0 2.6,0a1.3,1.3 0 1,0 -2.6,0M488.30,168.4a1.3,1.3 0 1,0 2.6,0a1.3,1.3 0 1,0 -2.6,0M502.50,170.1a1.3,1.3 0 1,0 2.6,0a1.3,1.3 0 1,0 -2.6,0M504.30,167.6a1.3,1.3 0 1,0 2.6,0a1.3,1.3 0 1,0 -2.6,0M508.10,165.7a1.3,1.3 0 1,0 2.6,0a1.3,1.3 0 1,0 -2.6,0M508.10,171.0a1.3,1.3 0 1,0 2.6,0a1.3,1.3 0 1,0 -2.6,0M529.00,166.6a1.3,1.3 0 1,0 2.6,0a1.3,1.3 0 1,0 -2.6,0M526.00,168.7a1.3,1.3 0 1,0 2.6,0a1.3,1.3 0 1,0 -2.6,0M479.40,174.3a1.3,1.3 0 1,0 2.6,0a1.3,1.3 0 1,0 -2.6,0M498.30,174.3a1.3,1.3 0 1,0 2.6,0a1.3,1.3 0 1,0 -2.6,0M504.00,174.6a1.3,1.3 0 1,0 2.6,0a1.3,1.3 0 1,0 -2.6,0M519.60,174.0a1.3,1.3 0 1,0 2.6,0a1.3,1.3 0 1,0 -2.6,0M534.50,172.5a1.3,1.3 0 1,0 2.6,0a1.3,1.3 0 1,0 -2.6,0M492.30,180.3a1.3,1.3 0 1,0 2.6,0a1.3,1.3 0 1,0 -2.6,0M477.90,182.5a1.3,1.3 0 1,0 2.6,0a1.3,1.3 0 1,0 -2.6,0M481.90,184.4a1.3,1.3 0 1,0 2.6,0a1.3,1.3 0 1,0 -2.6,0M493.20,185.0a1.3,1.3 0 1,0 2.6,0a1.3,1.3 0 1,0 -2.6,0M518.90,186.2a1.3,1.3 0 1,0 2.6,0a1.3,1.3 0 1,0 -2.6,0M341.20,188.7a1.3,1.3 0 1,0 2.6,0a1.3,1.3 0 1,0 -2.6,0M343.00,192.8a1.3,1.3 0 1,0 2.6,0a1.3,1.3 0 1,0 -2.6,0M350.20,194.7a1.3,1.3 0 1,0 2.6,0a1.3,1.3 0 1,0 -2.6,0M369.10,190.7a1.3,1.3 0 1,0 2.6,0a1.3,1.3 0 1,0 -2.6,0M374.30,190.7a1.3,1.3 0 1,0 2.6,0a1.3,1.3 0 1,0 -2.6,0M387.00,194.7a1.3,1.3 0 1,0 2.6,0a1.3,1.3 0 1,0 -2.6,0M343.00,206.2a1.3,1.3 0 1,0 2.6,0a1.3,1.3 0 1,0 -2.6,0M347.20,208.1a1.3,1.3 0 1,0 2.6,0a1.3,1.3 0 1,0 -2.6,0M354.90,207.4a1.3,1.3 0 1,0 2.6,0a1.3,1.3 0 1,0 -2.6,0M377.00,205.9a1.3,1.3 0 1,0 2.6,0a1.3,1.3 0 1,0 -2.6,0M384.40,212.6a1.3,1.3 0 1,0 2.6,0a1.3,1.3 0 1,0 -2.6,0M353.20,216.6a1.3,1.3 0 1,0 2.6,0a1.3,1.3 0 1,0 -2.6,0M374.30,218.6a1.3,1.3 0 1,0 2.6,0a1.3,1.3 0 1,0 -2.6,0M391.40,196.2a1.3,1.3 0 1,0 2.6,0a1.3,1.3 0 1,0 -2.6,0M415.70,189.5a1.3,1.3 0 1,0 2.6,0a1.3,1.3 0 1,0 -2.6,0M418.30,190.2a1.3,1.3 0 1,0 2.6,0a1.3,1.3 0 1,0 -2.6,0M432.10,197.7a1.3,1.3 0 1,0 2.6,0a1.3,1.3 0 1,0 -2.6,0M399.30,205.1a1.3,1.3 0 1,0 2.6,0a1.3,1.3 0 1,0 -2.6,0M412.30,208.1a1.3,1.3 0 1,0 2.6,0a1.3,1.3 0 1,0 -2.6,0M419.00,217.1a1.3,1.3 0 1,0 2.6,0a1.3,1.3 0 1,0 -2.6,0M414.20,221.1a1.3,1.3 0 1,0 2.6,0a1.3,1.3 0 1,0 -2.6,0M415.30,224.1a1.3,1.3 0 1,0 2.6,0a1.3,1.3 0 1,0 -2.6,0M432.70,219.0a1.3,1.3 0 1,0 2.6,0a1.3,1.3 0 1,0 -2.6,0M433.20,223.5a1.3,1.3 0 1,0 2.6,0a1.3,1.3 0 1,0 -2.6,0M443.20,224.1a1.3,1.3 0 1,0 2.6,0a1.3,1.3 0 1,0 -2.6,0M444.10,223.0a1.3,1.3 0 1,0 2.6,0a1.3,1.3 0 1,0 -2.6,0M446.60,207.7a1.3,1.3 0 1,0 2.6,0a1.3,1.3 0 1,0 -2.6,0M450.30,215.6a1.3,1.3 0 1,0 2.6,0a1.3,1.3 0 1,0 -2.6,0M454.00,219.3a1.3,1.3 0 1,0 2.6,0a1.3,1.3 0 1,0 -2.6,0M455.10,203.6a1.3,1.3 0 1,0 2.6,0a1.3,1.3 0 1,0 -2.6,0M465.20,223.5a1.3,1.3 0 1,0 2.6,0a1.3,1.3 0 1,0 -2.6,0M496.20,191.3a1.3,1.3 0 1,0 2.6,0a1.3,1.3 0 1,0 -2.6,0M497.70,191.0a1.3,1.3 0 1,0 2.6,0a1.3,1.3 0 1,0 -2.6,0M502.50,193.2a1.3,1.3 0 1,0 2.6,0a1.3,1.3 0 1,0 -2.6,0M486.10,198.4a1.3,1.3 0 1,0 2.6,0a1.3,1.3 0 1,0 -2.6,0M489.10,200.2a1.3,1.3 0 1,0 2.6,0a1.3,1.3 0 1,0 -2.6,0M503.70,199.2a1.3,1.3 0 1,0 2.6,0a1.3,1.3 0 1,0 -2.6,0M514.10,199.6a1.3,1.3 0 1,0 2.6,0a1.3,1.3 0 1,0 -2.6,0M528.10,201.4a1.3,1.3 0 1,0 2.6,0a1.3,1.3 0 1,0 -2.6,0M538.20,195.2a1.3,1.3 0 1,0 2.6,0a1.3,1.3 0 1,0 -2.6,0M481.90,205.6a1.3,1.3 0 1,0 2.6,0a1.3,1.3 0 1,0 -2.6,0M502.20,210.4a1.3,1.3 0 1,0 2.6,0a1.3,1.3 0 1,0 -2.6,0M499.80,214.5a1.3,1.3 0 1,0 2.6,0a1.3,1.3 0 1,0 -2.6,0M503.20,215.6a1.3,1.3 0 1,0 2.6,0a1.3,1.3 0 1,0 -2.6,0M506.90,215.6a1.3,1.3 0 1,0 2.6,0a1.3,1.3 0 1,0 -2.6,0M522.10,213.3a1.3,1.3 0 1,0 2.6,0a1.3,1.3 0 1,0 -2.6,0M529.00,211.8a1.3,1.3 0 1,0 2.6,0a1.3,1.3 0 1,0 -2.6,0M537.50,210.1a1.3,1.3 0 1,0 2.6,0a1.3,1.3 0 1,0 -2.6,0M474.20,221.5a1.3,1.3 0 1,0 2.6,0a1.3,1.3 0 1,0 -2.6,0" fill="none" stroke="#5050ff" stroke-width="0.7"/><path d="M327.20,106.80 L327.62,107.82 L328.72,107.91 L327.88,108.62 L328.14,109.69 L327.20,109.12 L326.26,109.69 L326.52,108.62 L325.68,107.91 L326.78,107.82zM338.40,110.80 L338.82,111.82 L339.92,111.91 L339.08,112.62 L339.34,113.69 L338.40,113.12 L337.46,113.69 L337.72,112.62 L336.88,111.91 L337.98,111.82zM319.00,113.30 L319.42,114.32 L320.52,114.41 L319.68,115.12 L319.94,116.19 L319.00,115.62 L318.06,116.19 L318.32,115.12 L317.48,114.41 L318.58,114.32zM330.20,113.80 L330.62,114.82 L331.72,114.91 L330.88,115.62 L331.14,116.69 L330.20,116.12 L329.26,116.69 L329.52,115.62 L328.68,114.91 L329.78,114.82zM338.10,113.30 L338.52,114.32 L339.62,114.41 L338.78,115.12 L339.04,116.19 L338.10,115.62 L337.16,116.19 L337.42,115.12 L336.58,114.41 L337.68,114.32zM350.30,112.70 L350.72,113.72 L351.82,113.81 L350.98,114.52 L351.24,115.59 L350.30,115.02 L349.36,115.59 L349.62,114.52 L348.78,113.81 L349.88,113.72zM361.50,116.00 L361.92,117.02 L363.02,117.11 L362.18,117.82 L362.44,118.89 L361.50,118.32 L360.56,118.89 L360.82,117.82 L359.98,117.11 L361.08,117.02zM325.20,121.20 L325.62,122.22 L326.72,122.31 L325.88,123.02 L326.14,124.09 L325.20,123.52 L324.26,124.09 L324.52,123.02 L323.68,122.31 L324.78,122.22zM322.00,126.10 L322.42,127.12 L323.52,127.21 L322.68,127.92 L322.94,128.99 L322.00,128.42 L321.06,128.99 L321.32,127.92 L320.48,127.21 L321.58,127.12zM330.20,125.30 L330.62,126.32 L331.72,126.41 L330.88,127.12 L331.14,128.19 L330.20,127.62 L329.26,128.19 L329.52,127.12 L328.68,126.41 L329.78,126.32zM389.00,120.80 L389.42,121.82 L390.52,121.91 L389.68,122.62 L389.94,123.69 L389.00,123.12 L388.06,123.69 L388.32,122.62 L387.48,121.91 L388.58,121.82zM327.60,131.20 L328.02,132.22 L329.12,132.31 L328.28,133.02 L328.54,134.09 L327.60,133.52 L326.66,134.09 L326.92,133.02 L326.08,132.31 L327.18,132.22zM335.40,131.70 L335.82,132.72 L336.92,132.81 L336.08,133.52 L336.34,134.59 L335.40,134.02 L334.46,134.59 L334.72,133.52 L333.88,132.81 L334.98,132.72zM338.40,129.70 L338.82,130.72 L339.92,130.81 L339.08,131.52 L339.34,132.59 L338.40,132.02 L337.46,132.59 L337.72,131.52 L336.88,130.81 L337.98,130.72zM346.60,136.60 L347.02,137.62 L348.12,137.71 L347.28,138.42 L347.54,139.49 L346.60,138.92 L345.66,139.49 L345.92,138.42 L345.08,137.71 L346.18,137.62zM356.20,132.40 L356.62,133.42 L357.72,133.51 L356.88,134.22 L357.14,135.29 L356.20,134.72 L355.26,135.29 L355.52,134.22 L354.68,133.51 L355.78,133.42zM359.20,136.60 L359.62,137.62 L360.72,137.71 L359.88,138.42 L360.14,139.49 L359.20,138.92 L358.26,139.49 L358.52,138.42 L357.68,137.71 L358.78,137.62zM374.90,127.90 L375.32,128.92 L376.42,129.01 L375.58,129.72 L375.84,130.79 L374.90,130.22 L373.96,130.79 L374.22,129.72 L373.38,129.01 L374.48,128.92zM328.20,137.60 L328.62,138.62 L329.72,138.71 L328.88,139.42 L329.14,140.49 L328.20,139.92 L327.26,140.49 L327.52,139.42 L326.68,138.71 L327.78,138.62zM335.70,139.90 L336.12,140.92 L337.22,141.01 L336.38,141.72 L336.64,142.79 L335.70,142.22 L334.76,142.79 L335.02,141.72 L334.18,141.01 L335.28,140.92zM370.40,139.90 L370.82,140.92 L371.92,141.01 L371.08,141.72 L371.34,142.79 L370.40,142.22 L369.46,142.79 L369.72,141.72 L368.88,141.01 L369.98,140.92zM371.90,140.60 L372.32,141.62 L373.42,141.71 L372.58,142.42 L372.84,143.49 L371.90,142.92 L370.96,143.49 L371.22,142.42 L370.38,141.71 L371.48,141.62zM381.60,138.10 L382.02,139.12 L383.12,139.21 L382.28,139.92 L382.54,140.99 L381.60,140.42 L380.66,140.99 L380.92,139.92 L380.08,139.21 L381.18,139.12zM376.40,143.10 L376.82,144.12 L377.92,144.21 L377.08,144.92 L377.34,145.99 L376.40,145.42 L375.46,145.99 L375.72,144.92 L374.88,144.21 L375.98,144.12zM319.00,144.00 L319.42,145.02 L320.52,145.11 L319.68,145.82 L319.94,146.89 L319.00,146.32 L318.06,146.89 L318.32,145.82 L317.48,145.11 L318.58,145.02zM401.20,123.50 L401.62,124.52 L402.72,124.61 L401.88,125.32 L402.14,126.39 L401.20,125.82 L400.26,126.39 L400.52,125.32 L399.68,124.61 L400.78,124.52zM409.10,124.20 L409.52,125.22 L410.62,125.31 L409.78,126.02 L410.04,127.09 L409.10,126.52 L408.16,127.09 L408.42,126.02 L407.58,125.31 L408.68,125.22zM418.50,122.00 L418.92,123.02 L420.02,123.11 L419.18,123.82 L419.44,124.89 L418.50,124.32 L417.56,124.89 L417.82,123.82 L416.98,123.11 L418.08,123.02zM418.50,124.70 L418.92,125.72 L420.02,125.81 L419.18,126.52 L419.44,127.59 L418.50,127.02 L417.56,127.59 L417.82,126.52 L416.98,125.81 L418.08,125.72zM423.30,125.30 L423.72,126.32 L424.82,126.41 L423.98,127.12 L424.24,128.19 L423.30,127.62 L422.36,128.19 L422.62,127.12 L421.78,126.41 L422.88,126.32zM413.60,128.70 L414.02,129.72 L415.12,129.81 L414.28,130.52 L414.54,131.59 L413.60,131.02 L412.66,131.59 L412.92,130.52 L412.08,129.81 L413.18,129.72zM421.10,133.90 L421.52,134.92 L422.62,135.01 L421.78,135.72 L422.04,136.79 L421.10,136.22 L420.16,136.79 L420.42,135.72 L419.58,135.01 L420.68,134.92zM409.60,136.60 L410.02,137.62 L411.12,137.71 L410.28,138.42 L410.54,139.49 L409.60,138.92 L408.66,139.49 L408.92,138.42 L408.08,137.71 L409.18,137.62zM420.30,139.90 L420.72,140.92 L421.82,141.01 L420.98,141.72 L421.24,142.79 L420.30,142.22 L419.36,142.79 L419.62,141.72 L418.78,141.01 L419.88,140.92zM451.30,129.10 L451.72,130.12 L452.82,130.21 L451.98,130.92 L452.24,131.99 L451.30,131.42 L450.36,131.99 L450.62,130.92 L449.78,130.21 L450.88,130.12zM454.90,122.70 L455.32,123.72 L456.42,123.81 L455.58,124.52 L455.84,125.59 L454.90,125.02 L453.96,125.59 L454.22,124.52 L453.38,123.81 L454.48,123.72zM460.90,120.20 L461.32,121.22 L462.42,121.31 L461.58,122.02 L461.84,123.09 L460.90,122.52 L459.96,123.09 L460.22,122.02 L459.38,121.31 L460.48,121.22zM466.80,125.00 L467.22,126.02 L468.32,126.11 L467.48,126.82 L467.74,127.89 L466.80,127.32 L465.86,127.89 L466.12,126.82 L465.28,126.11 L466.38,126.02zM458.30,134.20 L458.72,135.22 L459.82,135.31 L458.98,136.02 L459.24,137.09 L458.30,136.52 L457.36,137.09 L457.62,136.02 L456.78,135.31 L457.88,135.22zM466.50,134.60 L466.92,135.62 L468.02,135.71 L467.18,136.42 L467.44,137.49 L466.50,136.92 L465.56,137.49 L465.82,136.42 L464.98,135.71 L466.08,135.62zM399.70,142.60 L400.12,143.62 L401.22,143.71 L400.38,144.42 L400.64,145.49 L399.70,144.92 L398.76,145.49 L399.02,144.42 L398.18,143.71 L399.28,143.62zM418.10,142.80 L418.52,143.82 L419.62,143.91 L418.78,144.62 L419.04,145.69 L418.10,145.12 L417.16,145.69 L417.42,144.62 L416.58,143.91 L417.68,143.82zM437.90,142.60 L438.32,143.62 L439.42,143.71 L438.58,144.42 L438.84,145.49 L437.90,144.92 L436.96,145.49 L437.22,144.42 L436.38,143.71 L437.48,143.62zM427.80,144.00 L428.22,145.02 L429.32,145.11 L428.48,145.82 L428.74,146.89 L427.80,146.32 L426.86,146.89 L427.12,145.82 L426.28,145.11 L427.38,145.02zM461.30,143.60 L461.72,144.62 L462.82,144.71 L461.98,145.42 L462.24,146.49 L461.30,145.92 L460.36,146.49 L460.62,145.42 L459.78,144.71 L460.88,144.62zM514.50,112.30 L514.92,113.32 L516.02,113.41 L515.18,114.12 L515.44,115.19 L514.50,114.62 L513.56,115.19 L513.82,114.12 L512.98,113.41 L514.08,113.32zM486.20,116.80 L486.62,117.82 L487.72,117.91 L486.88,118.62 L487.14,119.69 L486.20,119.12 L485.26,119.69 L485.52,118.62 L484.68,117.91 L485.78,117.82zM502.00,119.00 L502.42,120.02 L503.52,120.11 L502.68,120.82 L502.94,121.89 L502.00,121.32 L501.06,121.89 L501.32,120.82 L500.48,120.11 L501.58,120.02zM539.50,105.90 L539.92,106.92 L541.02,107.01 L540.18,107.72 L540.44,108.79 L539.50,108.22 L538.56,108.79 L538.82,107.72 L537.98,107.01 L539.08,106.92zM541.00,111.80 L541.42,112.82 L542.52,112.91 L541.68,113.62 L541.94,114.69 L541.00,114.12 L540.06,114.69 L540.32,113.62 L539.48,112.91 L540.58,112.82zM469.20,126.40 L469.62,127.42 L470.72,127.51 L469.88,128.22 L470.14,129.29 L469.20,128.72 L468.26,129.29 L468.52,128.22 L467.68,127.51 L468.78,127.42zM485.60,126.40 L486.02,127.42 L487.12,127.51 L486.28,128.22 L486.54,129.29 L485.60,128.72 L484.66,129.29 L484.92,128.22 L484.08,127.51 L485.18,127.42zM515.70,129.10 L516.12,130.12 L517.22,130.21 L516.38,130.92 L516.64,131.99 L515.70,131.42 L514.76,131.99 L515.02,130.92 L514.18,130.21 L515.28,130.12zM523.40,126.40 L523.82,127.42 L524.92,127.51 L524.08,128.22 L524.34,129.29 L523.40,128.72 L522.46,129.29 L522.72,128.22 L521.88,127.51 L522.98,127.42zM522.40,128.70 L522.82,129.72 L523.92,129.81 L523.08,130.52 L523.34,131.59 L522.40,131.02 L521.46,131.59 L521.72,130.52 L520.88,129.81 L521.98,129.72zM527.30,129.70 L527.72,130.72 L528.82,130.81 L527.98,131.52 L528.24,132.59 L527.30,132.02 L526.36,132.59 L526.62,131.52 L525.78,130.81 L526.88,130.72zM531.80,133.20 L532.22,134.22 L533.32,134.31 L532.48,135.02 L532.74,136.09 L531.80,135.52 L530.86,136.09 L531.12,135.02 L530.28,134.31 L531.38,134.22zM537.30,130.20 L537.72,131.22 L538.82,131.31 L537.98,132.02 L538.24,133.09 L537.30,132.52 L536.36,133.09 L536.62,132.02 L535.78,131.31 L536.88,131.22zM540.70,124.70 L541.12,125.72 L542.22,125.81 L541.38,126.52 L541.64,127.59 L540.70,127.02 L539.76,127.59 L540.02,126.52 L539.18,125.81 L540.28,125.72zM473.70,135.10 L474.12,136.12 L475.22,136.21 L474.38,136.92 L474.64,137.99 L473.70,137.42 L472.76,137.99 L473.02,136.92 L472.18,136.21 L473.28,136.12zM477.20,138.10 L477.62,139.12 L478.72,139.21 L477.88,139.92 L478.14,140.99 L477.20,140.42 L476.26,140.99 L476.52,139.92 L475.68,139.21 L476.78,139.12zM487.40,138.40 L487.82,139.42 L488.92,139.51 L488.08,140.22 L488.34,141.29 L487.40,140.72 L486.46,141.29 L486.72,140.22 L485.88,139.51 L486.98,139.42zM505.30,133.20 L505.72,134.22 L506.82,134.31 L505.98,135.02 L506.24,136.09 L505.30,135.52 L504.36,136.09 L504.62,135.02 L503.78,134.31 L504.88,134.22zM511.20,136.10 L511.62,137.12 L512.72,137.21 L511.88,137.92 L512.14,138.99 L511.20,138.42 L510.26,138.99 L510.52,137.92 L509.68,137.21 L510.78,137.12zM513.00,135.10 L513.42,136.12 L514.52,136.21 L513.68,136.92 L513.94,137.99 L513.00,137.42 L512.06,137.99 L512.32,136.92 L511.48,136.21 L512.58,136.12zM469.20,142.10 L469.62,143.12 L470.72,143.21 L469.88,143.92 L470.14,144.99 L469.20,144.42 L468.26,144.99 L468.52,143.92 L467.68,143.21 L468.78,143.12zM316.70,146.10 L317.12,147.12 L318.22,147.21 L317.38,147.92 L317.64,148.99 L316.70,148.42 L315.76,148.99 L316.02,147.92 L315.18,147.21 L316.28,147.12zM319.70,145.30 L320.12,146.32 L321.22,146.41 L320.38,147.12 L320.64,148.19 L319.70,147.62 L318.76,148.19 L319.02,147.12 L318.18,146.41 L319.28,146.32zM350.60,145.30 L351.02,146.32 L352.12,146.41 L351.28,147.12 L351.54,148.19 L350.60,147.62 L349.66,148.19 L349.92,147.12 L349.08,146.41 L350.18,146.32zM367.40,146.80 L367.82,147.82 L368.92,147.91 L368.08,148.62 L368.34,149.69 L367.40,149.12 L366.46,149.69 L366.72,148.62 L365.88,147.91 L366.98,147.82zM372.30,148.80 L372.72,149.82 L373.82,149.91 L372.98,150.62 L373.24,151.69 L372.30,151.12 L371.36,151.69 L371.62,150.62 L370.78,149.91 L371.88,149.82zM333.60,150.30 L334.02,151.32 L335.12,151.41 L334.28,152.12 L334.54,153.19 L333.60,152.62 L332.66,153.19 L332.92,152.12 L332.08,151.41 L333.18,151.32zM330.20,152.10 L330.62,153.12 L331.72,153.21 L330.88,153.92 L331.14,154.99 L330.20,154.42 L329.26,154.99 L329.52,153.92 L328.68,153.21 L329.78,153.12zM346.60,152.80 L347.02,153.82 L348.12,153.91 L347.28,154.62 L347.54,155.69 L346.60,155.12 L345.66,155.69 L345.92,154.62 L345.08,153.91 L346.18,153.82zM357.40,155.00 L357.82,156.02 L358.92,156.11 L358.08,156.82 L358.34,157.89 L357.40,157.32 L356.46,157.89 L356.72,156.82 L355.88,156.11 L356.98,156.02zM333.60,155.80 L334.02,156.82 L335.12,156.91 L334.28,157.62 L334.54,158.69 L333.60,158.12 L332.66,158.69 L332.92,157.62 L332.08,156.91 L333.18,156.82zM372.90,154.70 L373.32,155.72 L374.42,155.81 L373.58,156.52 L373.84,157.59 L372.90,157.02 L371.96,157.59 L372.22,156.52 L371.38,155.81 L372.48,155.72zM372.60,158.30 L373.02,159.32 L374.12,159.41 L373.28,160.12 L373.54,161.19 L372.60,160.62 L371.66,161.19 L371.92,160.12 L371.08,159.41 L372.18,159.32zM335.40,159.80 L335.82,160.82 L336.92,160.91 L336.08,161.62 L336.34,162.69 L335.40,162.12 L334.46,162.69 L334.72,161.62 L333.88,160.91 L334.98,160.82zM337.60,160.70 L338.02,161.72 L339.12,161.81 L338.28,162.52 L338.54,163.59 L337.60,163.02 L336.66,163.59 L336.92,162.52 L336.08,161.81 L337.18,161.72zM349.50,160.70 L349.92,161.72 L351.02,161.81 L350.18,162.52 L350.44,163.59 L349.50,163.02 L348.56,163.59 L348.82,162.52 L347.98,161.81 L349.08,161.72zM316.70,163.20 L317.12,164.22 L318.22,164.31 L317.38,165.02 L317.64,166.09 L316.70,165.52 L315.76,166.09 L316.02,165.02 L315.18,164.31 L316.28,164.22zM365.90,162.20 L366.32,163.22 L367.42,163.31 L366.58,164.02 L366.84,165.09 L365.90,164.52 L364.96,165.09 L365.22,164.02 L364.38,163.31 L365.48,163.22zM382.30,159.20 L382.72,160.22 L383.82,160.31 L382.98,161.02 L383.24,162.09 L382.30,161.52 L381.36,162.09 L381.62,161.02 L380.78,160.31 L381.88,160.22zM383.80,164.70 L384.22,165.72 L385.32,165.81 L384.48,166.52 L384.74,167.59 L383.80,167.02 L382.86,167.59 L383.12,166.52 L382.28,165.81 L383.38,165.72zM386.00,167.70 L386.42,168.72 L387.52,168.81 L386.68,169.52 L386.94,170.59 L386.00,170.02 L385.06,170.59 L385.32,169.52 L384.48,168.81 L385.58,168.72zM340.60,167.00 L341.02,168.02 L342.12,168.11 L341.28,168.82 L341.54,169.89 L340.60,169.32 L339.66,169.89 L339.92,168.82 L339.08,168.11 L340.18,168.02zM366.40,167.00 L366.82,168.02 L367.92,168.11 L367.08,168.82 L367.34,169.89 L366.40,169.32 L365.46,169.89 L365.72,168.82 L364.88,168.11 L365.98,168.02zM371.40,167.30 L371.82,168.32 L372.92,168.41 L372.08,169.12 L372.34,170.19 L371.40,169.62 L370.46,170.19 L370.72,169.12 L369.88,168.41 L370.98,168.32zM379.80,173.20 L380.22,174.22 L381.32,174.31 L380.48,175.02 L380.74,176.09 L379.80,175.52 L378.86,176.09 L379.12,175.02 L378.28,174.31 L379.38,174.22zM328.70,175.60 L329.12,176.62 L330.22,176.71 L329.38,177.42 L329.64,178.49 L328.70,177.92 L327.76,178.49 L328.02,177.42 L327.18,176.71 L328.28,176.62zM343.10,175.20 L343.52,176.22 L344.62,176.31 L343.78,177.02 L344.04,178.09 L343.10,177.52 L342.16,178.09 L342.42,177.02 L341.58,176.31 L342.68,176.22zM347.60,177.70 L348.02,178.72 L349.12,178.81 L348.28,179.52 L348.54,180.59 L347.60,180.02 L346.66,180.59 L346.92,179.52 L346.08,178.81 L347.18,178.72zM322.30,181.10 L322.72,182.12 L323.82,182.21 L322.98,182.92 L323.24,183.99 L322.30,183.42 L321.36,183.99 L321.62,182.92 L320.78,182.21 L321.88,182.12zM336.90,184.10 L337.32,185.12 L338.42,185.21 L337.58,185.92 L337.84,186.99 L336.90,186.42 L335.96,186.99 L336.22,185.92 L335.38,185.21 L336.48,185.12zM356.50,182.60 L356.92,183.62 L358.02,183.71 L357.18,184.42 L357.44,185.49 L356.50,184.92 L355.56,185.49 L355.82,184.42 L354.98,183.71 L356.08,183.62zM367.40,185.10 L367.82,186.12 L368.92,186.21 L368.08,186.92 L368.34,187.99 L367.40,187.42 L366.46,187.99 L366.72,186.92 L365.88,186.21 L366.98,186.12zM370.40,183.60 L370.82,184.62 L371.92,184.71 L371.08,185.42 L371.34,186.49 L370.40,185.92 L369.46,186.49 L369.72,185.42 L368.88,184.71 L369.98,184.62zM408.70,145.80 L409.12,146.82 L410.22,146.91 L409.38,147.62 L409.64,148.69 L408.70,148.12 L407.76,148.69 L408.02,147.62 L407.18,146.91 L408.28,146.82zM421.10,146.10 L421.52,147.12 L422.62,147.21 L421.78,147.92 L422.04,148.99 L421.10,148.42 L420.16,148.99 L420.42,147.92 L419.58,147.21 L420.68,147.12zM423.60,147.60 L424.02,148.62 L425.12,148.71 L424.28,149.42 L424.54,150.49 L423.60,149.92 L422.66,150.49 L422.92,149.42 L422.08,148.71 L423.18,148.62zM427.80,145.30 L428.22,146.32 L429.32,146.41 L428.48,147.12 L428.74,148.19 L427.80,147.62 L426.86,148.19 L427.12,147.12 L426.28,146.41 L427.38,146.32zM408.40,154.30 L408.82,155.32 L409.92,155.41 L409.08,156.12 L409.34,157.19 L408.40,156.62 L407.46,157.19 L407.72,156.12 L406.88,155.41 L407.98,155.32zM416.60,153.80 L417.02,154.82 L418.12,154.91 L417.28,155.62 L417.54,156.69 L416.60,156.12 L415.66,156.69 L415.92,155.62 L415.08,154.91 L416.18,154.82zM450.40,151.80 L450.82,152.82 L451.92,152.91 L451.08,153.62 L451.34,154.69 L450.40,154.12 L449.46,154.69 L449.72,153.62 L448.88,152.91 L449.98,152.82zM457.30,152.80 L457.72,153.82 L458.82,153.91 L457.98,154.62 L458.24,155.69 L457.30,155.12 L456.36,155.69 L456.62,154.62 L455.78,153.91 L456.88,153.82zM457.30,147.90 L457.72,148.92 L458.82,149.01 L457.98,149.72 L458.24,150.79 L457.30,150.22 L456.36,150.79 L456.62,149.72 L455.78,149.01 L456.88,148.92zM466.20,147.30 L466.62,148.32 L467.72,148.41 L466.88,149.12 L467.14,150.19 L466.20,149.62 L465.26,150.19 L465.52,149.12 L464.68,148.41 L465.78,148.32zM404.70,162.20 L405.12,163.22 L406.22,163.31 L405.38,164.02 L405.64,165.09 L404.70,164.52 L403.76,165.09 L404.02,164.02 L403.18,163.31 L404.28,163.22zM411.40,161.30 L411.82,162.32 L412.92,162.41 L412.08,163.12 L412.34,164.19 L411.40,163.62 L410.46,164.19 L410.72,163.12 L409.88,162.41 L410.98,162.32zM419.60,162.50 L420.02,163.52 L421.12,163.61 L420.28,164.32 L420.54,165.39 L419.60,164.82 L418.66,165.39 L418.92,164.32 L418.08,163.61 L419.18,163.52zM407.20,167.30 L407.62,168.32 L408.72,168.41 L407.88,169.12 L408.14,170.19 L407.20,169.62 L406.26,170.19 L406.52,169.12 L405.68,168.41 L406.78,168.32zM416.60,167.30 L417.02,168.32 L418.12,168.41 L417.28,169.12 L417.54,170.19 L416.60,169.62 L415.66,170.19 L415.92,169.12 L415.08,168.41 L416.18,168.32zM418.10,172.90 L418.52,173.92 L419.62,174.01 L418.78,174.72 L419.04,175.79 L418.10,175.22 L417.16,175.79 L417.42,174.72 L416.58,174.01 L417.68,173.92zM458.30,167.70 L458.72,168.72 L459.82,168.81 L458.98,169.52 L459.24,170.59 L458.30,170.02 L457.36,170.59 L457.62,169.52 L456.78,168.81 L457.88,168.72zM465.00,162.20 L465.42,163.22 L466.52,163.31 L465.68,164.02 L465.94,165.09 L465.00,164.52 L464.06,165.09 L464.32,164.02 L463.48,163.31 L464.58,163.22zM410.60,179.20 L411.02,180.22 L412.12,180.31 L411.28,181.02 L411.54,182.09 L410.60,181.52 L409.66,182.09 L409.92,181.02 L409.08,180.31 L410.18,180.22zM406.60,180.10 L407.02,181.12 L408.12,181.21 L407.28,181.92 L407.54,182.99 L406.60,182.42 L405.66,182.99 L405.92,181.92 L405.08,181.21 L406.18,181.12zM436.00,180.40 L436.42,181.42 L437.52,181.51 L436.68,182.22 L436.94,183.29 L436.00,182.72 L435.06,183.29 L435.32,182.22 L434.48,181.51 L435.58,181.42zM438.20,180.40 L438.62,181.42 L439.72,181.51 L438.88,182.22 L439.14,183.29 L438.20,182.72 L437.26,183.29 L437.52,182.22 L436.68,181.51 L437.78,181.42zM442.70,178.10 L443.12,179.12 L444.22,179.21 L443.38,179.92 L443.64,180.99 L442.70,180.42 L441.76,180.99 L442.02,179.92 L441.18,179.21 L442.28,179.12zM443.90,182.20 L444.32,183.22 L445.42,183.31 L444.58,184.02 L444.84,185.09 L443.90,184.52 L442.96,185.09 L443.22,184.02 L442.38,183.31 L443.48,183.22zM428.50,183.60 L428.92,184.62 L430.02,184.71 L429.18,185.42 L429.44,186.49 L428.50,185.92 L427.56,186.49 L427.82,185.42 L426.98,184.71 L428.08,184.62zM461.30,179.20 L461.72,180.22 L462.82,180.31 L461.98,181.02 L462.24,182.09 L461.30,181.52 L460.36,182.09 L460.62,181.02 L459.78,180.31 L460.88,180.22zM466.50,181.10 L466.92,182.12 L468.02,182.21 L467.18,182.92 L467.44,183.99 L466.50,183.42 L465.56,183.99 L465.82,182.92 L464.98,182.21 L466.08,182.12zM481.40,149.10 L481.82,150.12 L482.92,150.21 L482.08,150.92 L482.34,151.99 L481.40,151.42 L480.46,151.99 L480.72,150.92 L479.88,150.21 L480.98,150.12zM502.60,152.10 L503.02,153.12 L504.12,153.21 L503.28,153.92 L503.54,154.99 L502.60,154.42 L501.66,154.99 L501.92,153.92 L501.08,153.21 L502.18,153.12zM506.40,155.00 L506.82,156.02 L507.92,156.11 L507.08,156.82 L507.34,157.89 L506.40,157.32 L505.46,157.89 L505.72,156.82 L504.88,156.11 L505.98,156.02zM519.40,155.80 L519.82,156.82 L520.92,156.91 L520.08,157.62 L520.34,158.69 L519.40,158.12 L518.46,158.69 L518.72,157.62 L517.88,156.91 L518.98,156.82zM539.20,151.80 L539.62,152.82 L540.72,152.91 L539.88,153.62 L540.14,154.69 L539.20,154.12 L538.26,154.69 L538.52,153.62 L537.68,152.91 L538.78,152.82zM542.20,147.90 L542.62,148.92 L543.72,149.01 L542.88,149.72 L543.14,150.79 L542.20,150.22 L541.26,150.79 L541.52,149.72 L540.68,149.01 L541.78,148.92zM542.50,152.80 L542.92,153.82 L544.02,153.91 L543.18,154.62 L543.44,155.69 L542.50,155.12 L541.56,155.69 L541.82,154.62 L540.98,153.91 L542.08,153.82zM494.10,159.80 L494.52,160.82 L495.62,160.91 L494.78,161.62 L495.04,162.69 L494.10,162.12 L493.16,162.69 L493.42,161.62 L492.58,160.91 L493.68,160.82zM482.20,161.70 L482.62,162.72 L483.72,162.81 L482.88,163.52 L483.14,164.59 L482.20,164.02 L481.26,164.59 L481.52,163.52 L480.68,162.81 L481.78,162.72zM534.30,165.50 L534.72,166.52 L535.82,166.61 L534.98,167.32 L535.24,168.39 L534.30,167.82 L533.36,168.39 L533.62,167.32 L532.78,166.61 L533.88,166.52zM540.30,169.60 L540.72,170.62 L541.82,170.71 L540.98,171.42 L541.24,172.49 L540.30,171.92 L539.36,172.49 L539.62,171.42 L538.78,170.71 L539.88,170.62zM470.70,174.10 L471.12,175.12 L472.22,175.21 L471.38,175.92 L471.64,176.99 L470.70,176.42 L469.76,176.99 L470.02,175.92 L469.18,175.21 L470.28,175.12zM494.80,172.20 L495.22,173.22 L496.32,173.31 L495.48,174.02 L495.74,175.09 L494.80,174.52 L493.86,175.09 L494.12,174.02 L493.28,173.31 L494.38,173.22zM496.60,175.90 L497.02,176.92 L498.12,177.01 L497.28,177.72 L497.54,178.79 L496.60,178.22 L495.66,178.79 L495.92,177.72 L495.08,177.01 L496.18,176.92zM513.50,172.20 L513.92,173.22 L515.02,173.31 L514.18,174.02 L514.44,175.09 L513.50,174.52 L512.56,175.09 L512.82,174.02 L511.98,173.31 L513.08,173.22zM520.50,171.70 L520.92,172.72 L522.02,172.81 L521.18,173.52 L521.44,174.59 L520.50,174.02 L519.56,174.59 L519.82,173.52 L518.98,172.81 L520.08,172.72zM524.30,175.20 L524.72,176.22 L525.82,176.31 L524.98,177.02 L525.24,178.09 L524.30,177.52 L523.36,178.09 L523.62,177.02 L522.78,176.31 L523.88,176.22zM501.50,178.10 L501.92,179.12 L503.02,179.21 L502.18,179.92 L502.44,180.99 L501.50,180.42 L500.56,180.99 L500.82,179.92 L499.98,179.21 L501.08,179.12zM506.40,178.60 L506.82,179.62 L507.92,179.71 L507.08,180.42 L507.34,181.49 L506.40,180.92 L505.46,181.49 L505.72,180.42 L504.88,179.71 L505.98,179.62zM472.50,184.80 L472.92,185.82 L474.02,185.91 L473.18,186.62 L473.44,187.69 L472.50,187.12 L471.56,187.69 L471.82,186.62 L470.98,185.91 L472.08,185.82zM480.20,184.80 L480.62,185.82 L481.72,185.91 L480.88,186.62 L481.14,187.69 L480.20,187.12 L479.26,187.69 L479.52,186.62 L478.68,185.91 L479.78,185.82zM327.20,192.90 L327.62,193.92 L328.72,194.01 L327.88,194.72 L328.14,195.79 L327.20,195.22 L326.26,195.79 L326.52,194.72 L325.68,194.01 L326.78,193.92zM330.90,196.30 L331.32,197.32 L332.42,197.41 L331.58,198.12 L331.84,199.19 L330.90,198.62 L329.96,199.19 L330.22,198.12 L329.38,197.41 L330.48,197.32zM341.30,191.80 L341.72,192.82 L342.82,192.91 L341.98,193.62 L342.24,194.69 L341.30,194.12 L340.36,194.69 L340.62,193.62 L339.78,192.91 L340.88,192.82zM344.00,188.80 L344.42,189.82 L345.52,189.91 L344.68,190.62 L344.94,191.69 L344.00,191.12 L343.06,191.69 L343.32,190.62 L342.48,189.91 L343.58,189.82zM358.00,187.30 L358.42,188.32 L359.52,188.41 L358.68,189.12 L358.94,190.19 L358.00,189.62 L357.06,190.19 L357.32,189.12 L356.48,188.41 L357.58,188.32zM367.40,187.30 L367.82,188.32 L368.92,188.41 L368.08,189.12 L368.34,190.19 L367.40,189.62 L366.46,190.19 L366.72,189.12 L365.88,188.41 L366.98,188.32zM368.20,191.10 L368.62,192.12 L369.72,192.21 L368.88,192.92 L369.14,193.99 L368.20,193.42 L367.26,193.99 L367.52,192.92 L366.68,192.21 L367.78,192.12zM349.50,202.70 L349.92,203.72 L351.02,203.81 L350.18,204.52 L350.44,205.59 L349.50,205.02 L348.56,205.59 L348.82,204.52 L347.98,203.81 L349.08,203.72zM326.10,205.70 L326.52,206.72 L327.62,206.81 L326.78,207.52 L327.04,208.59 L326.10,208.02 L325.16,208.59 L325.42,207.52 L324.58,206.81 L325.68,206.72zM340.10,210.70 L340.52,211.72 L341.62,211.81 L340.78,212.52 L341.04,213.59 L340.10,213.02 L339.16,213.59 L339.42,212.52 L338.58,211.81 L339.68,211.72zM340.60,212.70 L341.02,213.72 L342.12,213.81 L341.28,214.52 L341.54,215.59 L340.60,215.02 L339.66,215.59 L339.92,214.52 L339.08,213.81 L340.18,213.72zM386.00,208.20 L386.42,209.22 L387.52,209.31 L386.68,210.02 L386.94,211.09 L386.00,210.52 L385.06,211.09 L385.32,210.02 L384.48,209.31 L385.58,209.22zM363.70,217.90 L364.12,218.92 L365.22,219.01 L364.38,219.72 L364.64,220.79 L363.70,220.22 L362.76,220.79 L363.02,219.72 L362.18,219.01 L363.28,218.92zM389.80,217.90 L390.22,218.92 L391.32,219.01 L390.48,219.72 L390.74,220.79 L389.80,220.22 L388.86,220.79 L389.12,219.72 L388.28,219.01 L389.38,218.92zM402.40,189.90 L402.82,190.92 L403.92,191.01 L403.08,191.72 L403.34,192.79 L402.40,192.22 L401.46,192.79 L401.72,191.72 L400.88,191.01 L401.98,190.92zM403.20,193.80 L403.62,194.82 L404.72,194.91 L403.88,195.62 L404.14,196.69 L403.20,196.12 L402.26,196.69 L402.52,195.62 L401.68,194.91 L402.78,194.82zM416.10,191.10 L416.52,192.12 L417.62,192.21 L416.78,192.92 L417.04,193.99 L416.10,193.42 L415.16,193.99 L415.42,192.92 L414.58,192.21 L415.68,192.12zM410.60,200.30 L411.02,201.32 L412.12,201.41 L411.28,202.12 L411.54,203.19 L410.60,202.62 L409.66,203.19 L409.92,202.12 L409.08,201.41 L410.18,201.32zM405.40,203.00 L405.82,204.02 L406.92,204.11 L406.08,204.82 L406.34,205.89 L405.40,205.32 L404.46,205.89 L404.72,204.82 L403.88,204.11 L404.98,204.02zM404.70,206.30 L405.12,207.32 L406.22,207.41 L405.38,208.12 L405.64,209.19 L404.70,208.62 L403.76,209.19 L404.02,208.12 L403.18,207.41 L404.28,207.32zM420.00,210.70 L420.42,211.72 L421.52,211.81 L420.68,212.52 L420.94,213.59 L420.00,213.02 L419.06,213.59 L419.32,212.52 L418.48,211.81 L419.58,211.72zM426.00,206.00 L426.42,207.02 L427.52,207.11 L426.68,207.82 L426.94,208.89 L426.00,208.32 L425.06,208.89 L425.32,207.82 L424.48,207.11 L425.58,207.02zM435.20,208.70 L435.62,209.72 L436.72,209.81 L435.88,210.52 L436.14,211.59 L435.20,211.02 L434.26,211.59 L434.52,210.52 L433.68,209.81 L434.78,209.72zM439.70,204.80 L440.12,205.82 L441.22,205.91 L440.38,206.62 L440.64,207.69 L439.70,207.12 L438.76,207.69 L439.02,206.62 L438.18,205.91 L439.28,205.82zM437.50,214.20 L437.92,215.22 L439.02,215.31 L438.18,216.02 L438.44,217.09 L437.50,216.52 L436.56,217.09 L436.82,216.02 L435.98,215.31 L437.08,215.22zM427.00,219.10 L427.42,220.12 L428.52,220.21 L427.68,220.92 L427.94,221.99 L427.00,221.42 L426.06,221.99 L426.32,220.92 L425.48,220.21 L426.58,220.12zM430.40,222.70 L430.82,223.72 L431.92,223.81 L431.08,224.52 L431.34,225.59 L430.40,225.02 L429.46,225.59 L429.72,224.52 L428.88,223.81 L429.98,223.72zM449.40,218.60 L449.82,219.62 L450.92,219.71 L450.08,220.42 L450.34,221.49 L449.40,220.92 L448.46,221.49 L448.72,220.42 L447.88,219.71 L448.98,219.62zM450.10,223.10 L450.52,224.12 L451.62,224.21 L450.78,224.92 L451.04,225.99 L450.10,225.42 L449.16,225.99 L449.42,224.92 L448.58,224.21 L449.68,224.12zM453.40,223.10 L453.82,224.12 L454.92,224.21 L454.08,224.92 L454.34,225.99 L453.40,225.42 L452.46,225.99 L452.72,224.92 L451.88,224.21 L452.98,224.12zM457.90,222.70 L458.32,223.72 L459.42,223.81 L458.58,224.52 L458.84,225.59 L457.90,225.02 L456.96,225.59 L457.22,224.52 L456.38,223.81 L457.48,223.72zM452.40,201.20 L452.82,202.22 L453.92,202.31 L453.08,203.02 L453.34,204.09 L452.40,203.52 L451.46,204.09 L451.72,203.02 L450.88,202.31 L451.98,202.22zM454.30,192.60 L454.72,193.62 L455.82,193.71 L454.98,194.42 L455.24,195.49 L454.30,194.92 L453.36,195.49 L453.62,194.42 L452.78,193.71 L453.88,193.62zM455.30,194.80 L455.72,195.82 L456.82,195.91 L455.98,196.62 L456.24,197.69 L455.30,197.12 L454.36,197.69 L454.62,196.62 L453.78,195.91 L454.88,195.82zM457.90,192.90 L458.32,193.92 L459.42,194.01 L458.58,194.72 L458.84,195.79 L457.90,195.22 L456.96,195.79 L457.22,194.72 L456.38,194.01 L457.48,193.92zM459.80,203.70 L460.22,204.72 L461.32,204.81 L460.48,205.52 L460.74,206.59 L459.80,206.02 L458.86,206.59 L459.12,205.52 L458.28,204.81 L459.38,204.72zM461.30,207.50 L461.72,208.52 L462.82,208.61 L461.98,209.32 L462.24,210.39 L461.30,209.82 L460.36,210.39 L460.62,209.32 L459.78,208.61 L460.88,208.52zM462.30,210.70 L462.72,211.72 L463.82,211.81 L462.98,212.52 L463.24,213.59 L462.30,213.02 L461.36,213.59 L461.62,212.52 L460.78,211.81 L461.88,211.72zM464.70,205.20 L465.12,206.22 L466.22,206.31 L465.38,207.02 L465.64,208.09 L464.70,207.52 L463.76,208.09 L464.02,207.02 L463.18,206.31 L464.28,206.22zM465.00,209.00 L465.42,210.02 L466.52,210.11 L465.68,210.82 L465.94,211.89 L465.00,211.32 L464.06,211.89 L464.32,210.82 L463.48,210.11 L464.58,210.02zM467.30,192.90 L467.72,193.92 L468.82,194.01 L467.98,194.72 L468.24,195.79 L467.30,195.22 L466.36,195.79 L466.62,194.72 L465.78,194.01 L466.88,193.92zM474.70,186.90 L475.12,187.92 L476.22,188.01 L475.38,188.72 L475.64,189.79 L474.70,189.22 L473.76,189.79 L474.02,188.72 L473.18,188.01 L474.28,187.92zM468.70,193.30 L469.12,194.32 L470.22,194.41 L469.38,195.12 L469.64,196.19 L468.70,195.62 L467.76,196.19 L468.02,195.12 L467.18,194.41 L468.28,194.32zM477.20,192.60 L477.62,193.62 L478.72,193.71 L477.88,194.42 L478.14,195.49 L477.20,194.92 L476.26,195.49 L476.52,194.42 L475.68,193.71 L476.78,193.62zM502.30,188.80 L502.72,189.82 L503.82,189.91 L502.98,190.62 L503.24,191.69 L502.30,191.12 L501.36,191.69 L501.62,190.62 L500.78,189.91 L501.88,189.82zM523.40,192.90 L523.82,193.92 L524.92,194.01 L524.08,194.72 L524.34,195.79 L523.40,195.22 L522.46,195.79 L522.72,194.72 L521.88,194.01 L522.98,193.92zM531.30,195.20 L531.72,196.22 L532.82,196.31 L531.98,197.02 L532.24,198.09 L531.30,197.52 L530.36,198.09 L530.62,197.02 L529.78,196.31 L530.88,196.22zM531.80,187.30 L532.22,188.32 L533.32,188.41 L532.48,189.12 L532.74,190.19 L531.80,189.62 L530.86,190.19 L531.12,189.12 L530.28,188.41 L531.38,188.32zM543.30,192.90 L543.72,193.92 L544.82,194.01 L543.98,194.72 L544.24,195.79 L543.30,195.22 L542.36,195.79 L542.62,194.72 L541.78,194.01 L542.88,193.92zM485.10,208.20 L485.52,209.22 L486.62,209.31 L485.78,210.02 L486.04,211.09 L485.10,210.52 L484.16,211.09 L484.42,210.02 L483.58,209.31 L484.68,209.22zM478.70,213.10 L479.12,214.12 L480.22,214.21 L479.38,214.92 L479.64,215.99 L478.70,215.42 L477.76,215.99 L478.02,214.92 L477.18,214.21 L478.28,214.12zM491.50,213.10 L491.92,214.12 L493.02,214.21 L492.18,214.92 L492.44,215.99 L491.50,215.42 L490.56,215.99 L490.82,214.92 L489.98,214.21 L491.08,214.12zM493.30,216.10 L493.72,217.12 L494.82,217.21 L493.98,217.92 L494.24,218.99 L493.30,218.42 L492.36,218.99 L492.62,217.92 L491.78,217.21 L492.88,217.12zM495.60,214.90 L496.02,215.92 L497.12,216.01 L496.28,216.72 L496.54,217.79 L495.60,217.22 L494.66,217.79 L494.92,216.72 L494.08,216.01 L495.18,215.92zM497.50,212.20 L497.92,213.22 L499.02,213.31 L498.18,214.02 L498.44,215.09 L497.50,214.52 L496.56,215.09 L496.82,214.02 L495.98,213.31 L497.08,213.22zM476.20,217.90 L476.62,218.92 L477.72,219.01 L476.88,219.72 L477.14,220.79 L476.20,220.22 L475.26,220.79 L475.52,219.72 L474.68,219.01 L475.78,218.92zM473.70,220.10 L474.12,221.12 L475.22,221.21 L474.38,221.92 L474.64,222.99 L473.70,222.42 L472.76,222.99 L473.02,221.92 L472.18,221.21 L473.28,221.12z" fill="#ff8080" stroke="#ff3a3a" stroke-width="0.6" stroke-linejoin="round"/><line x1="316.0" y1="102.9" x2="543.6" y2="102.9" stroke="#11ee11" stroke-width="1.6" stroke-dasharray="1.9 1.9"/><line x1="316.0" y1="101.9" x2="543.6" y2="101.9" stroke="#0808ff" stroke-width="1.6" stroke-dasharray="3.3 1.7 1.0 1.8"/><line x1="316.0" y1="103.95" x2="543.6" y2="103.95" stroke="#ff2020" stroke-width="1.8"/></g><rect x="316.4" y="83.5" width="35.9" height="29.6" fill="none" stroke="#a9582c" stroke-width="0.85"/><line x1="352.6" y1="82.2" x2="379.5" y2="69.1" stroke="#a9582c" stroke-width="0.8"/><path d="M383.3,67.2 L377.4,67.6 L379.9,71.9 z" fill="#a9582c"/><rect x="316.0" y="21.5" width="227.60000000000002" height="207.0" fill="none" stroke="#8a8a8a" stroke-width="0.9"/><path d="M338.76,228.5 v-2 M338.76,21.5 v2 M361.52,228.5 v-2 M361.52,21.5 v2 M384.28,228.5 v-2 M384.28,21.5 v2 M407.04,228.5 v-2 M407.04,21.5 v2 M429.80,228.5 v-2 M429.80,21.5 v2 M452.56,228.5 v-2 M452.56,21.5 v2 M475.32,228.5 v-2 M475.32,21.5 v2 M498.08,228.5 v-2 M498.08,21.5 v2 M520.84,228.5 v-2 M520.84,21.5 v2 M316.0,202.62 h2 M543.6,202.62 h-2 M316.0,176.75 h2 M543.6,176.75 h-2 M316.0,150.87 h2 M543.6,150.87 h-2 M316.0,125.00 h2 M543.6,125.00 h-2 M316.0,99.12 h2 M543.6,99.12 h-2 M316.0,73.25 h2 M543.6,73.25 h-2 M316.0,47.37 h2 M543.6,47.37 h-2" stroke="#8a8a8a" stroke-width="0.6" fill="none"/><g font-size="6.4" fill="#1e1e1e"><text x="316.00" y="237.2" text-anchor="middle">-0.1</text><text x="338.76" y="237.2" text-anchor="middle">-0.08</text><text x="361.52" y="237.2" text-anchor="middle">-0.06</text><text x="384.28" y="237.2" text-anchor="middle">-0.04</text><text x="407.04" y="237.2" text-anchor="middle">-0.02</text><text x="429.80" y="237.2" text-anchor="middle">0</text><text x="452.56" y="237.2" text-anchor="middle">0.02</text><text x="475.32" y="237.2" text-anchor="middle">0.04</text><text x="498.08" y="237.2" text-anchor="middle">0.06</text><text x="520.84" y="237.2" text-anchor="middle">0.08</text><text x="543.60" y="237.2" text-anchor="middle">0.1</text><text x="313.6" y="230.50" text-anchor="end">-0.1</text><text x="313.6" y="204.62" text-anchor="end">-0.05</text><text x="313.6" y="178.75" text-anchor="end">0</text><text x="313.6" y="152.87" text-anchor="end">0.05</text><text x="313.6" y="127.00" text-anchor="end">0.1</text><text x="313.6" y="101.12" text-anchor="end">0.15</text><text x="313.6" y="75.25" text-anchor="end">0.2</text><text x="313.6" y="49.37" text-anchor="end">0.25</text><text x="313.6" y="23.50" text-anchor="end">0.3</text></g><text x="436.6" y="247.4" font-size="6.4" fill="#1e1e1e" stroke="#1e1e1e" stroke-width="0.25">Δ</text><text x="443.6" y="247.4" font-size="6.6" fill="#1e1e1e">x</text><text x="447.4" y="250.5" font-size="4.8" fill="#1e1e1e">1</text><text transform="translate(297.3 125.4) rotate(-90)" font-size="6.4" fill="#1e1e1e" text-anchor="middle">f(x)</text><text x="426.9" y="9.9" font-size="6.9" fill="#1a1a1a" text-anchor="middle">b</text><rect x="411.4" y="21.5" width="112.89999999999998" height="65.4" fill="#fff" stroke="#8a8a8a" stroke-width="0.9"/><line x1="411.4" y1="43.35" x2="524.3" y2="43.35" stroke="#0808ff" stroke-width="1.4" stroke-dasharray="3.3 1.7 1.0 1.8"/><line x1="411.4" y1="67.45" x2="524.3" y2="67.45" stroke="#11ee11" stroke-width="2.2" stroke-dasharray="2.1 1.8"/><line x1="411.4" y1="70.9" x2="524.3" y2="70.9" stroke="#ff2020" stroke-width="2.0"/><path d="M430.22,86.9 v-1.6 M430.22,21.5 v1.6 M449.03,86.9 v-1.6 M449.03,21.5 v1.6 M467.85,86.9 v-1.6 M467.85,21.5 v1.6 M486.67,86.9 v-1.6 M486.67,21.5 v1.6 M505.48,86.9 v-1.6 M505.48,21.5 v1.6 M411.4,73.80 h1.6 M524.3,73.80 h-1.6 M411.4,41.50 h1.6 M524.3,41.50 h-1.6" stroke="#8a8a8a" stroke-width="0.6" fill="none"/><g font-size="5.4" fill="#1e1e1e"><text x="411.40" y="95.8" text-anchor="middle">-0.1</text><text x="430.22" y="95.8" text-anchor="middle">-0.095</text><text x="449.03" y="95.8" text-anchor="middle">-0.09</text><text x="467.85" y="95.8" text-anchor="middle">-0.085</text><text x="486.67" y="95.8" text-anchor="middle">-0.08</text><text x="505.48" y="95.8" text-anchor="middle">-0.075</text><text x="524.30" y="95.8" text-anchor="middle">-0.07</text><text x="409.3" y="75.60" text-anchor="end">0.14</text><text x="409.3" y="43.30" text-anchor="end">0.145</text></g><rect x="57.3" y="260.3" width="452.2" height="16.9" fill="#fff" stroke="#8a8a8a" stroke-width="0.9"/><g fill="none" stroke="#1a1a1a" stroke-width="1"><ellipse cx="100.5" cy="267.6" rx="7.7" ry="4.3" stroke-dasharray="2.4 1.3"/><ellipse cx="97.4" cy="267.9" rx="2.1" ry="3.0" stroke-dasharray="1.8 1"/><ellipse cx="103.6" cy="267.9" rx="2.1" ry="3.0" stroke-dasharray="1.8 1"/></g><g font-size="5.35" fill="#1e1e1e" stroke="#1e1e1e" stroke-width="0.12"><text x="109.9" y="270.1">f(x)</text><text x="170.3" y="270.1">I-RO</text><text x="202" y="270.1">L-RO</text><text x="235.9" y="270.1">H-STA-RO</text><text x="282.1" y="270.1">Upper bound of I-RO</text><text x="352.3" y="270.1">Upper bound of L-RO</text><text x="423.7" y="270.1">Upper bound of H-STA-RO</text></g><path d="M161,266.1 l1.05,1.45 l-1.05,1.45 l-1.05,-1.45z" fill="#9ef09e" stroke="#3ad83a" stroke-width="0.75"/><circle cx="192.8" cy="267.6" r="1.2" fill="none" stroke="#5a5aff" stroke-width="0.6"/><path d="M226.10,266.20 L226.52,267.22 L227.62,267.31 L226.78,268.02 L227.04,269.09 L226.10,268.52 L225.16,269.09 L225.42,268.02 L224.58,267.31 L225.68,267.22z" fill="#ff8080" stroke="#ff3a3a" stroke-width="0.6" stroke-linejoin="round"/><line x1="264.8" y1="267.9" x2="281.8" y2="267.9" stroke="#11ee11" stroke-width="2" stroke-dasharray="2 1.75"/><line x1="334.5" y1="267.8" x2="351" y2="267.8" stroke="#0808ff" stroke-width="1.4" stroke-dasharray="3.5 1.9 1.0 1.9"/><line x1="406.3" y1="267.7" x2="422.4" y2="267.7" stroke="#ff2020" stroke-width="1.2"/></svg></body></html>
